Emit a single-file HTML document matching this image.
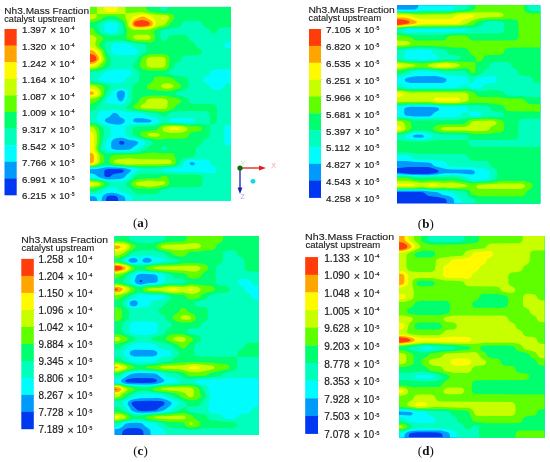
<!DOCTYPE html>
<html><head><meta charset="utf-8"><style>
html,body{margin:0;padding:0;background:#fff;width:550px;height:462px;overflow:hidden}
svg{display:block}
.t1{font-family:"Liberation Sans",Arial,sans-serif;font-size:9.4px;fill:#1a1a1a;stroke:#1a1a1a;stroke-width:0.12px}
.t2{font-family:"Liberation Sans",Arial,sans-serif;font-size:9.1px;fill:#1a1a1a;stroke:#1a1a1a;stroke-width:0.12px}
.lb{font-family:"Liberation Sans",Arial,sans-serif;font-size:9.8px;fill:#1a1a1a;stroke:#1a1a1a;stroke-width:0.18px}
.sp{font-size:5.4px}
.tm{font-size:10.8px}
.cap{font-family:"Liberation Serif","Times New Roman",serif;font-size:13px;fill:#111}
.ax{font-family:"Liberation Sans",Arial,sans-serif;font-size:7px}
</style></head><body>
<svg width="550" height="462" viewBox="0 0 550 462">
<defs><filter id="sf" x="-2%" y="-2%" width="104%" height="104%"><feGaussianBlur stdDeviation="0.45"/></filter></defs>
<g filter="url(#sf)"><rect x="90.0" y="6.9" width="141.0" height="194.1" fill="#0037f0"/>
<path fill="#009bfa" fill-rule="evenodd" d="M231.0 201.0L118.3 201.0L118.0 198.2L117.1 196.8L114.8 195.8L111.5 195.4L108.8 195.7L107.1 196.5L106.2 198.2L106.0 201.0L90.0 201.0L90.0 6.9L231.0 6.9L231.0 201.0ZM123.3 144.5L124.5 143.1L124.4 142.1L123.7 141.5L121.5 140.9L120.2 141.1L119.4 141.8L119.1 143.1L119.8 144.2L121.5 144.8L123.3 144.5ZM109.1 177.2L113.5 173.9L120.2 173.1L122.3 172.5L123.7 171.5L123.8 170.5L122.2 169.5L119.5 169.2L109.2 168.9L105.9 169.5L104.8 170.2L104.2 171.5L104.4 175.5L105.1 176.5L106.2 177.1L109.1 177.2Z"/>
<path fill="#00fcfc" fill-rule="evenodd" d="M231.0 201.0L125.3 201.0L125.1 197.8L123.5 196.0L116.2 193.3L111.5 192.7L107.2 193.2L103.8 195.0L102.0 197.5L101.7 201.0L97.2 201.0L97.0 198.5L95.8 197.0L93.5 196.2L90.0 196.0L90.0 173.3L94.5 173.9L98.8 177.2L105.7 179.2L109.8 179.5L119.5 178.9L122.2 178.5L124.2 177.5L126.6 174.8L130.3 171.8L131.0 170.5L130.5 169.8L129.1 169.2L123.8 168.0L108.5 167.2L105.2 167.5L97.2 169.0L90.0 169.3L90.0 6.9L231.0 6.9L231.0 201.0ZM122.0 101.1L123.0 100.1L124.5 96.9L125.0 93.4L124.6 92.1L123.6 91.1L122.2 90.6L120.5 90.6L118.8 91.1L117.5 92.1L116.8 93.4L116.8 95.4L117.5 97.9L118.9 100.4L120.5 101.4L122.0 101.1ZM119.8 124.5L121.8 124.0L123.5 123.1L124.7 121.8L124.8 120.5L123.9 119.1L119.8 116.9L117.6 114.1L115.9 113.1L114.2 113.0L112.5 113.5L109.6 116.8L105.9 118.8L104.8 120.1L105.4 121.8L107.8 123.0L114.8 124.4L119.8 124.5ZM148.9 122.5L151.2 121.8L151.7 121.1L151.5 120.5L149.3 119.5L142.5 118.2L135.8 118.3L133.9 119.1L133.1 120.5L134.0 121.8L136.2 122.5L148.9 122.5ZM128.4 149.8L131.4 148.8L133.9 146.5L137.2 144.4L138.2 143.1L138.1 142.1L135.5 140.8L129.5 139.9L123.2 138.0L120.5 137.7L117.5 138.0L114.8 138.8L112.8 140.0L111.6 141.5L111.1 143.5L111.2 147.1L111.5 148.2L112.5 149.1L116.8 150.0L128.4 149.8ZM193.7 165.1L194.5 164.5L194.9 163.5L193.8 162.2L191.2 162.1L189.7 163.1L189.7 164.1L190.7 165.1L192.2 165.5L193.7 165.1Z"/>
<path fill="#00ffbc" fill-rule="evenodd" d="M231.0 201.0L132.4 201.0L132.0 197.2L130.4 195.2L127.5 193.7L120.5 191.8L119.1 190.8L116.8 188.2L114.5 187.5L110.8 187.9L106.8 189.0L105.2 189.8L101.5 192.8L99.5 193.7L90.0 194.0L90.0 177.8L94.8 178.2L109.5 181.0L116.5 181.6L121.5 181.4L125.2 180.3L128.5 178.8L129.8 177.6L132.2 174.3L137.1 171.5L138.0 170.2L137.6 169.5L136.2 168.8L132.2 168.0L122.8 166.9L108.2 166.0L105.2 166.2L95.8 167.7L90.0 167.9L90.0 6.9L231.0 6.9L231.0 41.6L227.8 41.9L226.1 42.4L224.8 43.5L224.3 45.1L224.8 46.7L226.1 47.8L227.8 48.3L231.0 48.6L231.0 69.3L216.5 69.3L212.5 69.9L210.8 71.1L208.8 74.9L203.8 77.8L203.0 79.8L203.3 81.1L204.1 82.1L208.9 84.8L211.2 88.5L212.5 89.3L214.5 89.8L218.5 89.9L221.5 89.3L223.2 88.1L224.6 85.4L225.5 84.4L227.5 83.6L231.0 83.3L231.0 124.7L226.9 125.1L224.8 126.5L224.1 128.5L224.0 132.8L224.0 141.1L224.6 143.5L225.5 144.5L226.8 145.1L231.0 145.6L231.0 201.0ZM113.7 33.1L116.4 32.4L117.8 30.9L118.1 26.4L117.4 24.1L115.2 22.8L111.8 22.3L107.8 22.6L105.2 23.7L104.5 24.7L104.1 26.4L104.2 29.7L104.9 31.4L106.3 32.4L108.2 33.0L113.7 33.1ZM133.3 55.1L135.5 54.5L137.5 53.4L138.5 52.1L138.6 50.8L137.4 49.4L133.7 47.4L130.5 44.4L126.2 43.4L117.2 43.0L113.5 43.5L111.5 45.1L111.1 47.4L111.4 51.8L112.5 53.4L114.0 54.4L118.2 55.2L133.3 55.1ZM120.7 83.1L123.8 82.1L124.7 81.1L126.5 77.7L131.2 74.8L131.8 72.8L130.5 70.8L127.5 69.5L121.8 69.3L115.2 69.5L108.2 70.8L105.2 72.1L102.6 75.1L98.9 77.1L97.8 78.4L97.9 79.4L98.4 80.1L100.9 81.1L115.5 83.1L120.7 83.1ZM121.4 104.8L124.2 103.8L126.4 101.8L127.2 99.4L127.9 93.8L127.5 91.4L126.2 89.7L124.2 88.7L121.2 88.3L116.8 89.0L112.9 91.1L111.7 92.4L110.1 95.8L106.8 99.1L106.3 100.8L106.8 102.5L108.5 103.6L118.8 104.8L121.4 104.8ZM130.0 151.5L135.2 150.6L138.1 149.5L144.5 144.4L145.2 143.5L145.4 142.5L144.6 141.5L142.5 140.5L130.2 137.6L126.8 136.1L125.7 134.8L125.3 133.1L125.4 128.8L126.3 126.8L128.2 125.4L130.8 124.7L148.5 124.6L153.8 124.0L156.7 123.1L158.6 122.1L159.4 121.1L159.0 119.8L156.2 117.9L148.8 116.1L143.5 113.6L126.8 112.1L117.2 109.9L112.8 109.9L102.5 111.1L100.5 111.6L98.8 112.5L97.6 113.8L97.1 115.5L97.0 119.5L97.6 121.1L100.4 123.1L109.4 126.8L110.4 127.8L110.9 129.1L110.8 135.1L110.1 136.5L107.2 139.3L106.3 140.8L104.7 147.5L104.7 148.5L105.2 149.5L107.6 150.8L111.5 151.5L130.0 151.5ZM192.9 122.1L194.6 121.1L194.8 120.5L194.5 119.6L192.8 118.5L190.2 118.1L173.3 118.1L170.2 119.1L169.1 120.5L170.2 121.5L172.8 121.9L189.5 122.5L192.9 122.1ZM212.4 173.2L214.5 172.7L215.9 171.8L216.7 170.2L216.4 168.5L215.2 167.2L211.1 164.8L209.4 161.5L208.5 160.5L206.8 159.7L204.5 159.4L192.8 159.4L187.3 160.1L184.5 161.5L182.6 165.5L180.5 167.0L174.2 168.3L164.5 168.9L162.7 169.5L162.3 170.2L164.2 171.2L170.7 171.8L197.8 172.0L207.5 173.2L212.4 173.2Z"/>
<path fill="#00ff6e" fill-rule="evenodd" d="M213.5 124.1L210.8 124.4L210.2 124.1L209.7 113.8L208.5 112.1L206.2 111.2L198.5 111.0L178.2 111.2L170.5 112.8L168.7 113.8L165.8 116.3L163.8 116.8L162.2 116.3L159.4 114.1L157.2 113.2L133.5 110.6L128.8 109.6L126.6 108.5L126.1 107.5L126.4 106.5L131.0 102.4L132.1 100.4L132.4 87.8L132.8 85.8L134.2 84.1L138.2 81.9L139.2 79.4L139.4 74.4L139.0 72.4L137.8 70.8L133.5 67.4L132.8 66.1L132.7 64.8L133.5 63.4L136.4 60.8L137.9 57.8L138.9 56.4L145.6 52.1L146.3 50.1L146.1 46.1L145.2 44.8L143.2 43.9L135.8 43.2L121.5 40.4L113.5 40.4L107.7 41.8L105.3 43.4L104.5 45.4L106.2 49.4L107.2 53.4L110.1 57.1L110.9 58.8L111.1 63.8L110.5 66.1L108.1 67.8L100.2 70.5L95.8 71.3L90.0 71.6L90.0 6.9L160.4 6.9L160.6 9.1L161.1 10.1L162.2 10.8L164.2 11.1L165.8 10.8L167.0 10.1L167.6 6.9L231.0 6.9L231.0 27.6L222.8 27.6L219.5 28.2L217.8 29.3L216.3 32.4L214.8 33.5L213.2 33.7L211.4 33.1L209.0 29.1L203.8 26.2L201.2 22.1L199.2 21.3L195.5 20.9L187.8 21.0L184.5 21.4L182.8 22.4L180.9 25.7L179.5 26.8L177.5 27.4L171.8 27.9L163.5 29.8L161.5 30.7L160.6 32.4L160.8 38.7L161.8 40.2L163.5 40.8L165.2 40.7L166.4 40.1L168.5 36.4L171.2 34.9L181.8 34.6L186.5 35.4L188.1 36.7L189.8 40.2L194.6 43.1L196.8 47.2L200.8 49.4L201.8 50.4L202.3 51.8L202.0 53.1L201.1 54.1L199.8 54.7L196.8 55.2L186.5 55.4L183.2 56.4L182.2 57.4L180.6 60.8L175.8 63.7L173.9 67.8L169.5 71.1L168.6 72.8L169.5 74.0L171.5 74.8L178.2 76.0L185.8 76.8L187.5 77.7L188.3 79.1L188.7 85.4L187.8 88.3L185.2 89.9L177.0 92.1L175.8 93.4L176.5 94.6L186.5 97.5L188.0 98.8L189.8 102.4L191.8 103.5L195.5 103.9L212.2 104.1L214.5 104.6L216.2 105.8L217.0 108.8L216.8 120.8L215.8 123.0L213.5 124.1ZM116.0 35.7L120.8 34.6L122.4 33.4L123.1 32.1L123.3 29.7L122.5 24.4L121.9 23.1L120.7 22.1L115.2 20.0L109.2 19.7L106.2 20.2L101.8 21.7L99.2 22.9L97.8 24.1L97.6 25.7L99.0 30.7L99.6 32.1L100.8 33.1L104.2 34.6L107.8 35.6L116.0 35.7ZM91.5 110.8L90.0 110.9L90.0 81.4L93.8 81.7L104.8 83.9L109.3 85.4L110.2 86.4L110.0 87.8L107.5 90.8L106.0 95.1L102.8 99.4L101.3 103.1L98.0 106.1L95.5 109.2L93.8 110.2L91.5 110.8ZM155.2 168.2L144.5 168.2L135.8 167.0L113.8 165.7L107.2 164.6L95.8 166.7L90.0 167.0L90.0 122.7L93.5 123.1L96.8 124.1L101.9 126.5L103.6 128.1L104.1 130.5L103.9 135.5L102.1 143.5L100.5 147.5L100.5 149.1L101.2 150.5L103.1 151.8L105.8 152.9L108.5 153.2L129.5 152.9L139.8 151.7L144.8 150.1L148.0 147.1L152.1 144.5L152.8 142.8L152.2 141.8L151.3 141.1L136.0 136.8L133.3 135.5L132.4 133.5L132.5 129.5L133.3 127.8L134.8 127.0L138.2 126.6L153.5 126.2L156.5 125.6L162.2 123.5L164.5 123.1L191.5 124.4L200.8 123.6L209.8 124.6L210.0 133.1L209.5 136.3L208.2 137.8L203.7 140.1L201.3 144.5L197.5 146.5L196.5 147.5L195.8 149.5L195.5 154.5L194.7 156.1L192.4 157.1L185.2 158.1L182.5 158.8L180.7 160.5L179.1 164.1L177.9 165.1L175.8 166.0L172.2 166.7L162.8 167.1L155.2 168.2ZM165.0 150.1L166.2 149.6L166.8 148.8L166.8 147.8L166.2 147.1L164.8 146.5L163.5 146.4L161.4 147.5L161.1 148.5L161.8 149.6L163.2 150.2L165.0 150.1ZM155.5 193.9L140.2 194.0L135.8 193.4L133.8 192.3L131.0 189.2L126.8 186.2L126.0 185.2L125.9 183.8L127.0 182.5L132.6 178.8L135.8 175.4L138.5 174.4L144.2 173.4L162.2 173.4L173.8 174.6L197.2 174.8L200.7 175.5L202.3 177.2L202.7 179.5L202.4 183.8L201.5 185.5L199.8 186.5L196.2 187.0L172.2 187.3L162.7 189.5L161.0 190.5L158.5 193.1L155.5 193.9ZM93.8 191.8L90.0 192.1L90.0 179.3L95.2 179.6L102.5 180.8L107.8 182.5L109.7 183.8L109.3 184.8L107.8 185.8L99.0 189.5L95.8 191.3L93.8 191.8Z"/>
<path fill="#5fff00" fill-rule="evenodd" d="M150.5 42.4L134.8 41.2L129.0 39.8L126.8 38.7L125.8 37.1L127.0 33.1L127.1 31.1L124.7 22.4L123.2 20.6L116.4 16.4L112.2 15.9L106.8 16.2L105.1 16.7L101.6 19.1L97.4 20.7L93.5 21.9L90.0 22.2L90.0 6.9L146.3 6.9L147.0 10.1L149.5 11.6L159.8 13.0L169.8 13.6L171.8 14.1L173.5 15.1L174.5 17.1L174.1 19.1L170.8 22.4L168.4 25.7L165.7 27.1L157.8 28.8L154.4 30.7L153.8 32.1L155.0 36.7L154.7 39.8L153.2 41.6L150.5 42.4ZM93.5 69.8L90.0 69.9L90.0 27.7L93.5 28.7L96.6 33.4L102.1 36.7L103.1 37.7L103.0 39.4L99.8 42.8L99.3 45.1L99.9 46.4L103.4 50.1L106.5 58.8L105.8 62.4L104.1 65.4L102.8 66.8L98.7 68.8L93.5 69.8ZM162.5 70.5L148.8 70.4L145.2 69.8L142.2 68.6L140.3 67.1L139.7 65.4L141.7 58.1L142.8 56.9L144.8 55.9L151.2 54.1L162.8 54.0L165.5 54.4L167.5 55.2L168.8 56.4L169.5 58.4L169.2 66.1L168.3 67.8L166.8 69.0L164.8 69.9L162.5 70.5ZM169.8 91.1L163.2 91.2L149.8 89.6L147.5 88.4L146.9 87.4L146.8 86.1L147.8 84.4L152.2 81.9L154.1 78.1L156.2 76.8L158.8 76.4L162.5 76.4L170.8 77.8L173.4 78.8L176.4 81.8L180.0 84.1L180.9 85.1L181.1 86.1L180.4 87.4L178.8 88.4L172.8 90.5L169.8 91.1ZM91.5 103.8L90.0 103.9L90.0 83.3L95.8 83.9L100.4 85.1L102.7 86.1L103.6 87.1L104.0 88.8L103.9 93.1L103.2 95.4L95.2 102.4L93.5 103.3L91.5 103.8ZM165.8 111.5L162.8 111.8L140.5 110.0L134.8 108.6L133.5 107.8L133.2 106.8L134.3 105.1L138.1 102.1L140.8 97.9L143.2 96.8L147.2 96.0L153.5 95.6L165.8 95.8L177.8 98.4L180.6 99.8L181.1 101.1L180.5 102.4L176.1 105.1L173.6 108.5L171.5 109.6L165.8 111.5ZM93.5 166.2L90.0 166.3L90.0 124.7L93.2 124.9L95.5 125.5L97.6 126.8L98.5 128.1L99.4 132.5L99.6 136.5L99.3 142.5L98.2 147.1L98.2 149.5L99.4 151.8L103.5 155.5L104.2 157.8L104.1 161.5L102.9 163.1L98.6 165.1L93.5 166.2ZM160.2 139.5L155.8 139.5L145.3 137.5L141.0 135.8L140.1 134.8L140.1 133.8L141.5 132.2L144.5 131.2L156.5 129.8L157.7 129.1L160.6 126.1L162.8 125.2L165.2 124.7L178.8 124.7L192.5 126.3L198.5 126.3L200.8 126.9L202.0 128.1L201.7 129.8L200.2 131.0L193.5 131.9L191.0 132.8L189.4 134.1L187.6 137.1L185.5 138.2L181.8 138.6L166.2 138.7L160.2 139.5ZM157.8 166.2L144.2 166.3L128.8 165.8L114.8 164.8L112.5 164.4L110.5 163.5L109.3 162.1L109.1 160.8L109.9 158.5L111.4 156.1L113.1 155.1L115.2 154.7L136.2 154.2L153.2 152.4L163.2 153.4L171.2 152.9L172.8 153.4L174.1 154.5L176.1 160.8L175.9 162.8L174.9 164.1L173.2 165.0L171.0 165.5L157.8 166.2ZM154.5 188.5L148.5 188.8L136.2 187.9L132.4 186.2L131.3 184.8L131.1 183.5L131.9 182.2L133.5 180.8L137.5 179.2L148.5 178.5L156.8 178.6L158.8 178.0L161.8 176.2L163.5 175.8L165.8 176.1L167.3 177.2L168.8 179.8L169.4 182.2L169.2 183.8L168.3 185.2L165.2 186.6L154.5 188.5ZM90.8 188.8L90.0 188.9L90.0 180.3L94.8 180.6L100.5 181.5L103.4 182.5L104.6 183.5L104.7 184.2L104.2 185.1L101.8 186.4L94.8 188.4L90.8 188.8Z"/>
<path fill="#c8ff00" fill-rule="evenodd" d="M144.8 30.1L134.5 29.9L131.5 29.2L129.6 28.1L127.9 25.7L127.1 21.4L125.7 17.7L125.2 14.4L124.8 14.0L97.2 13.9L96.9 6.9L125.4 6.9L125.5 12.7L125.8 13.6L138.2 12.3L142.2 12.3L155.8 14.8L165.5 14.9L167.5 15.5L168.8 16.7L169.1 18.1L168.6 19.4L165.5 24.0L164.2 25.1L157.8 26.5L150.2 29.5L144.8 30.1ZM91.8 19.4L90.0 19.5L90.0 13.9L96.8 14.0L96.7 16.4L96.1 17.7L94.5 18.8L91.8 19.4ZM93.2 68.5L90.0 68.6L90.0 34.7L93.5 35.4L96.1 37.4L96.5 39.1L95.3 43.1L95.4 45.1L96.4 46.8L101.0 50.8L103.8 58.1L103.8 59.8L103.1 61.4L98.2 66.4L96.1 67.8L93.2 68.5ZM148.5 39.8L136.5 39.4L133.8 38.4L133.1 37.1L134.2 35.6L136.5 34.8L147.5 34.8L149.8 35.7L150.8 37.4L150.2 39.1L148.5 39.8ZM161.8 67.8L151.5 67.8L147.8 66.8L146.9 65.8L146.5 64.4L146.5 60.4L147.0 58.8L148.7 57.4L151.8 56.7L161.2 56.7L164.3 57.4L165.2 58.4L165.5 59.4L165.5 65.1L164.5 66.8L161.8 67.8ZM169.2 88.5L165.2 88.4L162.8 88.0L161.2 86.8L161.1 85.4L162.8 83.9L166.5 83.3L170.5 83.7L173.1 85.1L173.6 86.1L173.2 87.2L171.5 88.1L169.2 88.5ZM91.2 98.8L90.0 98.8L90.0 85.2L93.8 85.6L96.7 86.8L100.2 89.9L101.3 92.4L101.0 94.4L99.2 96.3L95.2 98.1L91.2 98.8ZM164.2 109.1L144.5 108.6L141.2 107.8L140.6 107.1L140.5 106.5L141.6 105.1L145.1 102.8L147.2 99.9L148.8 98.9L152.8 98.3L163.2 98.5L166.3 99.4L167.2 100.4L167.6 101.8L167.6 105.5L167.2 107.1L166.0 108.5L164.2 109.1ZM179.2 132.8L171.2 132.9L165.2 132.0L162.9 130.8L162.5 128.8L163.3 127.5L165.3 126.5L172.8 125.7L182.2 126.3L185.8 127.2L187.6 128.5L187.3 129.8L185.5 131.2L182.5 132.3L179.2 132.8ZM92.2 165.5L90.0 165.6L90.0 126.6L92.8 127.0L94.3 127.8L96.5 132.5L96.9 135.1L96.9 140.8L96.2 149.1L96.8 151.1L99.1 154.8L99.6 157.1L99.6 161.1L98.8 163.1L96.2 164.8L92.2 165.5ZM156.8 136.8L150.4 136.5L148.5 135.8L147.7 134.8L148.5 133.8L151.3 133.1L156.8 133.1L159.3 133.8L159.7 134.8L159.2 135.8L156.8 136.8ZM133.5 164.5L128.2 164.7L116.2 163.3L114.5 162.8L113.9 161.5L114.8 160.2L116.5 159.6L128.8 158.2L138.8 159.3L167.8 159.4L170.7 160.1L172.0 161.8L171.2 163.2L168.5 163.9L154.5 164.3L137.5 164.2L133.5 164.5ZM152.8 186.5L148.5 186.7L137.8 185.4L135.8 184.6L135.4 183.5L136.2 182.5L137.5 182.0L149.2 180.6L157.2 181.4L162.8 181.2L164.2 181.7L164.8 182.5L164.7 183.8L163.2 184.7L152.8 186.5ZM92.8 186.8L90.0 187.0L90.0 181.4L97.4 182.2L99.5 182.8L100.6 183.8L100.2 184.7L98.8 185.5L92.8 186.8Z"/>
<path fill="#fffa00" fill-rule="evenodd" d="M114.5 11.8L109.2 11.9L105.8 11.2L104.3 9.7L104.1 6.9L118.3 6.9L118.2 9.1L117.6 10.4L116.5 11.2L114.5 11.8ZM146.2 28.4L135.8 28.4L133.2 27.9L131.2 26.8L130.0 25.1L129.8 22.4L130.5 20.3L132.3 17.4L133.5 16.3L135.3 15.4L141.8 14.2L147.4 15.1L150.7 16.1L152.6 17.1L154.4 19.1L155.7 21.4L156.0 23.1L155.5 24.7L154.3 26.1L151.9 27.4L146.2 28.4ZM162.8 19.4L161.8 19.1L161.4 18.1L162.5 17.3L163.9 17.4L164.4 18.1L164.2 18.7L162.8 19.4ZM92.2 66.8L90.0 67.0L90.0 47.3L93.8 48.1L97.1 50.1L100.8 56.1L101.4 58.1L101.3 59.8L100.1 61.4L94.5 66.0L92.2 66.8ZM92.2 96.8L90.0 96.9L90.0 88.7L92.8 88.9L95.2 89.7L97.2 91.1L98.0 92.4L97.9 94.1L96.8 95.3L94.8 96.3L92.2 96.8ZM176.2 130.1L170.9 129.8L169.6 129.1L169.4 128.5L171.2 127.6L174.5 127.3L178.2 127.6L179.8 128.5L179.7 129.1L179.2 129.5L176.2 130.1ZM92.8 164.5L90.0 164.7L90.0 131.8L92.5 132.6L93.8 134.5L94.1 140.5L93.7 148.8L94.2 150.5L96.5 154.5L96.9 156.5L96.9 160.8L96.6 162.5L95.3 163.8L92.8 164.5ZM129.5 162.3L128.8 162.5L128.1 162.1L129.2 161.8L129.5 162.3ZM90.8 184.8L90.0 184.9L90.0 183.1L93.6 183.8L93.0 184.5L90.8 184.8Z"/>
<path fill="#ffa500" fill-rule="evenodd" d="M144.5 27.4L137.8 27.5L134.2 26.9L132.8 26.1L132.1 25.1L131.8 23.7L132.1 22.4L133.8 20.3L140.2 17.1L142.5 16.5L144.8 16.9L151.5 20.9L152.7 22.4L152.9 23.7L152.2 25.4L150.6 26.4L144.5 27.4ZM92.5 63.8L90.0 64.1L90.0 50.0L92.7 50.4L94.4 51.4L98.0 55.8L98.9 57.8L98.8 59.4L97.7 61.1L95.2 62.9L92.5 63.8ZM91.5 94.8L90.0 94.9L90.0 91.4L92.6 91.8L93.9 92.8L94.0 93.4L93.5 94.1L91.5 94.8ZM91.5 163.2L90.0 163.3L90.0 152.5L92.9 153.8L93.6 154.8L94.0 156.5L93.8 161.6L93.2 162.5L91.5 163.2Z"/>
<path fill="#ff3c0a" fill-rule="evenodd" d="M142.8 26.4L138.2 26.4L135.5 25.9L134.0 24.7L134.0 23.1L134.8 22.0L136.5 21.1L142.2 20.1L146.6 21.1L148.7 22.1L149.7 23.1L149.7 24.4L148.5 25.4L142.8 26.4ZM91.5 62.1L90.0 62.2L90.0 54.0L92.5 54.4L94.5 55.3L95.8 56.5L96.5 58.1L96.4 59.4L95.4 60.8L93.8 61.6L91.5 62.1Z"/></g>
<rect x="4.5" y="29.00" width="12.2" height="16.90" fill="#ff3c0a"/>
<rect x="4.5" y="45.60" width="12.2" height="16.90" fill="#ffa500"/>
<rect x="4.5" y="62.20" width="12.2" height="16.90" fill="#fffa00"/>
<rect x="4.5" y="78.80" width="12.2" height="16.90" fill="#c8ff00"/>
<rect x="4.5" y="95.40" width="12.2" height="16.90" fill="#5fff00"/>
<rect x="4.5" y="112.00" width="12.2" height="16.90" fill="#00ff6e"/>
<rect x="4.5" y="128.60" width="12.2" height="16.90" fill="#00ffbc"/>
<rect x="4.5" y="145.20" width="12.2" height="16.90" fill="#00fcfc"/>
<rect x="4.5" y="161.80" width="12.2" height="16.90" fill="#009bfa"/>
<rect x="4.5" y="178.40" width="12.2" height="16.90" fill="#0037f0"/>
<line x1="16.7" y1="29.00" x2="18.3" y2="29.00" stroke="#c8c8c8" stroke-width="0.7"/>
<line x1="16.7" y1="45.60" x2="18.3" y2="45.60" stroke="#c8c8c8" stroke-width="0.7"/>
<line x1="16.7" y1="62.20" x2="18.3" y2="62.20" stroke="#c8c8c8" stroke-width="0.7"/>
<line x1="16.7" y1="78.80" x2="18.3" y2="78.80" stroke="#c8c8c8" stroke-width="0.7"/>
<line x1="16.7" y1="95.40" x2="18.3" y2="95.40" stroke="#c8c8c8" stroke-width="0.7"/>
<line x1="16.7" y1="112.00" x2="18.3" y2="112.00" stroke="#c8c8c8" stroke-width="0.7"/>
<line x1="16.7" y1="128.60" x2="18.3" y2="128.60" stroke="#c8c8c8" stroke-width="0.7"/>
<line x1="16.7" y1="145.20" x2="18.3" y2="145.20" stroke="#c8c8c8" stroke-width="0.7"/>
<line x1="16.7" y1="161.80" x2="18.3" y2="161.80" stroke="#c8c8c8" stroke-width="0.7"/>
<line x1="16.7" y1="178.40" x2="18.3" y2="178.40" stroke="#c8c8c8" stroke-width="0.7"/>
<line x1="16.7" y1="195.00" x2="18.3" y2="195.00" stroke="#c8c8c8" stroke-width="0.7"/>
<text transform="matrix(1.075 0 0 1.000 4.3 13.7)" class="t1">Nh3.Mass Fraction</text>
<text transform="matrix(1.000 0 0 1.000 4.3 21.6)" class="t2">catalyst upstream</text>
<g transform="matrix(0.940 0 0 1.000 22.1 33.30)" class="lb"><text transform="scale(1.050 1)">1.397</text><text x="30.0" y="0.8" class="tm">×</text><text x="39.6">10</text><text x="51.1" y="-3.0" class="sp">-4</text></g>
<g transform="matrix(0.940 0 0 1.000 22.1 49.90)" class="lb"><text transform="scale(1.050 1)">1.320</text><text x="30.0" y="0.8" class="tm">×</text><text x="39.6">10</text><text x="51.1" y="-3.0" class="sp">-4</text></g>
<g transform="matrix(0.940 0 0 1.000 22.1 66.50)" class="lb"><text transform="scale(1.050 1)">1.242</text><text x="30.0" y="0.8" class="tm">×</text><text x="39.6">10</text><text x="51.1" y="-3.0" class="sp">-4</text></g>
<g transform="matrix(0.940 0 0 1.000 22.1 83.10)" class="lb"><text transform="scale(1.050 1)">1.164</text><text x="30.0" y="0.8" class="tm">×</text><text x="39.6">10</text><text x="51.1" y="-3.0" class="sp">-4</text></g>
<g transform="matrix(0.940 0 0 1.000 22.1 99.70)" class="lb"><text transform="scale(1.050 1)">1.087</text><text x="30.0" y="0.8" class="tm">×</text><text x="39.6">10</text><text x="51.1" y="-3.0" class="sp">-4</text></g>
<g transform="matrix(0.940 0 0 1.000 22.1 116.30)" class="lb"><text transform="scale(1.050 1)">1.009</text><text x="30.0" y="0.8" class="tm">×</text><text x="39.6">10</text><text x="51.1" y="-3.0" class="sp">-4</text></g>
<g transform="matrix(0.940 0 0 1.000 22.1 132.90)" class="lb"><text transform="scale(1.050 1)">9.317</text><text x="30.0" y="0.8" class="tm">×</text><text x="39.6">10</text><text x="51.1" y="-3.0" class="sp">-5</text></g>
<g transform="matrix(0.940 0 0 1.000 22.1 149.50)" class="lb"><text transform="scale(1.050 1)">8.542</text><text x="30.0" y="0.8" class="tm">×</text><text x="39.6">10</text><text x="51.1" y="-3.0" class="sp">-5</text></g>
<g transform="matrix(0.940 0 0 1.000 22.1 166.10)" class="lb"><text transform="scale(1.050 1)">7.766</text><text x="30.0" y="0.8" class="tm">×</text><text x="39.6">10</text><text x="51.1" y="-3.0" class="sp">-5</text></g>
<g transform="matrix(0.940 0 0 1.000 22.1 182.70)" class="lb"><text transform="scale(1.050 1)">6.991</text><text x="30.0" y="0.8" class="tm">×</text><text x="39.6">10</text><text x="51.1" y="-3.0" class="sp">-5</text></g>
<g transform="matrix(0.940 0 0 1.000 22.1 199.30)" class="lb"><text transform="scale(1.050 1)">6.215</text><text x="30.0" y="0.8" class="tm">×</text><text x="39.6">10</text><text x="51.1" y="-3.0" class="sp">-5</text></g>
<g filter="url(#sf)"><rect x="397.0" y="5.3" width="143.2" height="198.2" fill="#0037f0"/>
<path fill="#009bfa" fill-rule="evenodd" d="M540.2 203.5L446.9 203.5L446.5 200.0L444.8 198.5L437.1 196.9L428.8 196.1L427.1 195.3L424.5 193.0L422.7 192.3L419.1 192.0L397.0 192.1L397.0 172.6L410.8 173.9L427.8 174.1L435.6 173.0L437.6 172.4L438.6 171.4L438.1 170.4L436.5 169.5L430.5 167.5L427.1 167.0L408.2 166.9L397.0 168.2L397.0 5.3L540.2 5.3L540.2 203.5Z"/>
<path fill="#00fcfc" fill-rule="evenodd" d="M540.2 203.5L454.3 203.5L453.9 199.7L453.0 198.3L451.8 197.4L448.8 196.1L442.5 194.7L437.5 192.3L421.8 190.7L397.0 190.8L397.0 174.1L414.8 175.1L427.5 175.2L436.1 174.6L445.1 173.3L454.8 173.2L461.1 173.5L471.8 174.6L474.1 173.9L475.0 172.4L474.1 170.7L471.1 169.7L451.4 169.5L446.1 168.9L435.6 166.4L433.7 165.4L431.1 163.2L428.5 162.4L415.1 162.1L406.2 161.0L397.0 160.9L397.0 9.5L415.1 9.4L417.7 8.1L418.3 5.3L540.2 5.3L540.2 203.5ZM442.3 83.1L444.5 82.6L445.8 81.7L446.5 80.1L445.9 78.8L443.1 77.4L435.5 76.1L415.1 76.2L407.1 77.8L405.3 78.8L404.7 79.7L405.1 81.1L406.3 82.1L410.2 83.1L442.3 83.1ZM428.7 116.4L431.5 115.5L434.1 112.7L438.5 110.4L439.1 109.4L438.9 108.4L437.0 107.4L433.5 107.0L410.5 106.8L406.2 107.4L404.8 108.2L404.2 109.4L404.0 112.4L404.4 114.1L405.2 115.1L406.8 115.8L414.8 116.6L428.7 116.4ZM421.4 137.7L423.6 137.0L424.2 136.4L424.0 135.7L421.8 134.8L417.8 134.6L414.3 135.0L412.9 136.0L413.4 137.0L415.1 137.6L421.4 137.7Z"/>
<path fill="#00ffbc" fill-rule="evenodd" d="M540.2 203.5L461.3 203.5L461.2 200.0L460.4 198.0L456.0 195.0L453.7 193.0L451.2 192.0L438.1 190.7L429.5 190.4L422.1 189.7L397.0 189.9L397.0 175.2L420.1 176.2L430.5 176.1L445.1 175.2L457.8 175.3L464.8 176.5L467.1 177.4L470.8 179.5L474.8 180.0L484.4 179.8L487.4 179.3L489.4 178.0L489.9 174.7L489.7 172.4L489.1 170.7L487.6 169.4L485.4 168.5L471.8 166.9L451.1 166.6L448.3 165.7L445.9 162.4L443.5 161.2L429.5 159.6L415.8 159.4L413.2 158.7L410.1 156.4L408.2 155.6L397.0 155.2L397.0 116.3L413.5 118.4L427.5 118.5L438.1 117.3L457.4 116.9L460.1 115.9L463.1 112.6L466.4 111.8L468.4 112.0L469.2 114.7L470.1 115.4L472.1 116.0L479.4 115.9L481.4 115.2L482.1 114.1L481.3 112.7L479.1 111.9L469.1 111.5L468.8 111.3L468.4 109.1L467.8 108.0L466.2 107.1L464.2 106.7L446.1 106.8L436.5 105.7L425.8 105.3L408.2 105.4L397.0 106.5L397.0 83.3L401.2 84.1L404.9 86.7L406.4 87.4L413.5 88.0L456.4 87.8L459.7 87.1L463.8 84.0L467.4 83.4L468.3 83.7L469.0 86.1L470.5 87.4L473.4 88.2L478.1 88.6L481.6 87.7L484.0 84.7L485.4 83.9L493.1 83.0L495.1 82.5L496.4 81.4L497.0 79.7L496.4 77.8L494.4 76.4L491.1 76.0L486.7 76.2L478.4 77.8L476.4 79.1L473.8 82.2L471.8 82.8L469.4 83.0L468.8 82.4L468.3 79.7L467.5 78.4L465.8 77.1L463.8 76.3L450.5 75.7L442.8 74.2L436.8 71.7L423.1 71.0L414.2 71.6L409.2 74.1L403.2 76.2L400.2 77.0L397.0 77.2L397.0 10.9L414.2 11.1L424.5 10.0L449.5 9.9L451.8 9.4L453.4 8.5L454.0 7.5L454.3 5.3L540.2 5.3L540.2 203.5ZM410.2 32.8L417.5 32.3L441.1 32.2L450.8 31.6L462.8 31.5L465.8 31.1L466.7 30.4L466.4 29.8L465.6 29.5L463.1 29.2L417.1 29.4L408.8 28.7L405.4 29.1L403.5 30.4L403.9 31.4L405.2 32.2L410.2 32.8ZM426.2 59.8L436.3 59.1L438.3 58.4L439.0 57.1L438.0 55.8L434.0 53.8L431.5 50.8L428.7 49.8L417.1 49.6L409.2 49.9L405.6 50.8L404.2 52.4L404.2 57.1L405.2 58.4L406.7 59.1L410.5 59.6L426.2 59.8ZM423.0 139.7L427.2 139.0L430.3 138.0L431.6 137.0L431.7 135.7L430.0 134.4L426.5 133.2L422.5 132.7L417.5 132.6L413.5 132.9L409.2 134.0L406.5 135.0L405.1 136.4L405.4 137.4L406.4 138.0L411.2 139.3L416.1 139.8L423.0 139.7Z"/>
<path fill="#00ff6e" fill-rule="evenodd" d="M540.2 83.2L536.4 82.9L534.4 82.1L533.4 80.9L532.1 77.8L530.4 76.6L522.7 75.7L520.4 75.0L519.1 73.8L517.4 70.3L512.6 67.4L510.4 63.4L508.7 62.5L506.1 62.0L495.7 62.0L492.1 62.7L490.5 64.1L488.9 67.4L484.3 70.1L481.8 73.4L479.0 74.8L473.4 76.4L471.4 76.4L469.4 75.6L467.6 74.1L465.8 71.5L463.8 70.7L445.8 71.1L437.1 70.1L422.5 69.1L414.2 69.7L409.5 70.4L406.1 71.4L401.5 73.9L397.0 74.6L397.0 59.7L407.8 61.2L422.8 61.7L437.1 60.8L445.5 59.7L457.4 59.7L459.7 59.1L460.6 57.8L460.1 56.4L458.3 55.4L451.4 54.8L449.1 54.1L447.8 53.1L445.6 50.1L442.5 49.1L429.1 47.7L418.1 47.6L407.5 48.3L397.0 49.5L397.0 32.3L406.5 34.0L418.5 34.9L440.8 34.9L452.8 33.6L498.4 33.5L501.4 33.1L503.4 31.8L504.1 30.1L504.2 26.8L503.9 23.5L503.3 22.5L502.0 21.8L498.4 21.3L489.4 21.3L486.7 21.5L484.6 22.1L483.4 23.0L481.8 25.3L480.1 26.3L474.1 27.7L465.1 27.4L408.5 27.7L397.0 29.6L397.0 11.9L414.8 12.2L423.8 11.7L450.8 11.5L457.8 10.3L466.1 9.5L468.1 8.1L468.5 5.3L527.9 5.3L528.2 8.8L529.7 10.4L532.4 10.9L540.2 10.9L540.2 83.2ZM513.7 139.7L468.8 139.9L468.0 136.4L466.9 135.4L465.1 134.8L439.8 134.2L435.8 133.5L428.5 131.3L422.5 130.7L414.8 130.9L401.8 134.3L397.0 134.8L397.0 117.9L401.5 118.2L417.8 120.5L456.4 119.9L460.4 119.5L467.4 118.2L479.8 117.8L488.1 116.7L500.7 116.9L502.7 116.3L503.6 115.1L502.8 113.4L500.7 112.2L494.1 111.3L492.0 110.7L490.7 109.8L488.6 106.7L485.1 105.7L465.8 105.0L445.1 105.3L426.8 104.2L408.5 104.3L397.0 104.9L397.0 88.0L406.8 89.4L410.8 89.6L455.1 89.6L465.1 88.8L480.1 91.3L488.7 90.3L498.7 90.3L502.4 91.2L505.4 94.6L508.1 95.6L522.1 96.0L531.0 97.1L540.2 97.2L540.2 118.6L524.4 118.6L521.7 119.0L520.1 119.7L519.0 121.1L518.6 122.7L518.2 137.0L516.7 138.9L513.7 139.7ZM540.2 203.5L475.6 203.5L475.4 200.7L474.7 199.3L468.4 196.4L467.4 195.3L465.9 192.3L463.8 191.3L451.4 190.3L429.5 189.5L422.1 188.9L397.0 189.2L397.0 176.2L407.5 176.6L418.5 177.7L456.1 177.2L459.1 177.7L463.1 179.7L466.2 180.7L470.4 181.7L473.4 181.9L487.4 181.4L494.1 180.1L495.8 179.3L496.8 178.4L497.3 174.7L497.1 171.7L496.5 170.0L495.4 168.9L491.3 166.4L488.4 162.0L485.1 161.0L474.4 160.8L471.4 160.3L469.4 159.0L467.5 155.4L465.1 154.2L460.4 153.9L418.1 153.8L407.8 152.6L397.0 152.5L397.0 139.9L410.5 141.5L418.8 141.8L426.8 141.5L438.8 139.9L468.4 139.8L468.8 143.4L469.4 145.0L471.1 146.2L473.4 146.7L540.2 146.9L540.2 203.5Z"/>
<path fill="#5fff00" fill-rule="evenodd" d="M479.4 61.5L476.8 61.8L475.8 61.4L475.4 58.1L474.8 56.7L473.7 55.8L470.0 53.8L469.1 52.6L467.8 49.4L466.5 48.4L464.8 47.9L452.4 47.5L443.8 46.4L425.8 45.7L416.5 45.8L408.2 46.9L397.0 47.6L397.0 35.0L408.8 36.3L410.7 37.1L414.2 39.7L418.1 40.6L442.5 40.4L445.5 39.5L447.6 37.1L449.4 36.1L452.1 35.6L456.8 35.6L463.4 35.6L466.4 36.1L467.8 36.8L470.4 39.7L473.8 40.5L514.1 40.4L517.1 39.4L517.9 38.4L518.4 37.1L518.5 23.8L518.2 22.1L517.4 20.8L515.4 19.7L512.4 19.3L486.4 19.4L479.0 20.8L477.0 21.8L473.4 24.7L468.4 25.8L456.8 26.6L408.5 27.0L397.0 28.2L397.0 12.7L415.8 13.2L449.8 12.8L457.8 11.8L466.8 11.4L472.1 10.4L473.8 9.8L475.1 8.8L475.7 5.3L523.9 5.3L524.2 10.1L524.9 11.5L526.4 12.6L530.4 13.5L540.2 13.6L540.2 47.6L512.1 47.6L507.7 48.0L505.4 49.1L503.6 52.8L502.1 54.1L499.1 54.8L488.7 55.0L485.8 55.5L483.7 56.8L481.8 60.4L479.4 61.5ZM473.4 73.1L471.6 72.8L470.0 70.1L468.8 69.0L465.4 68.0L453.4 69.3L445.8 69.5L433.1 68.7L421.5 67.4L408.2 68.9L400.8 70.5L397.0 70.8L397.0 61.3L421.8 63.5L444.8 61.3L475.1 62.0L475.6 63.4L475.3 70.8L474.6 72.4L473.4 73.1ZM540.2 111.6L509.4 111.3L507.4 110.8L505.7 109.8L503.4 106.1L501.7 104.9L486.4 103.0L474.1 102.9L454.8 104.2L443.1 104.2L426.1 103.2L397.0 103.6L397.0 89.6L410.8 90.9L454.8 90.9L465.1 90.5L468.4 91.1L473.4 92.6L475.1 93.7L477.1 96.1L479.8 97.0L498.1 97.3L507.7 98.5L521.7 98.8L524.5 99.7L527.0 102.7L528.8 103.7L532.0 104.2L540.2 104.2L540.2 111.6ZM487.4 133.7L475.1 133.9L464.4 132.6L442.1 132.3L435.3 130.7L433.5 129.4L433.2 128.1L433.8 126.9L435.1 126.0L441.1 124.5L463.8 123.9L465.8 123.1L468.4 120.3L472.1 119.3L487.4 118.6L493.7 118.7L500.7 119.8L502.4 120.4L503.7 121.4L504.2 123.4L504.2 128.4L503.8 130.0L502.7 131.4L500.1 132.3L487.4 133.7ZM399.5 133.1L397.0 133.2L397.0 119.2L404.6 120.1L408.8 121.2L410.7 122.4L411.3 123.7L411.4 126.7L411.0 128.4L410.3 129.4L408.7 130.4L404.5 132.0L399.5 133.1ZM521.1 196.4L479.4 196.3L472.4 194.7L471.2 193.7L470.0 191.3L469.1 190.3L467.4 189.6L464.8 189.3L442.8 188.6L430.5 188.7L421.8 188.0L413.5 188.4L397.0 188.4L397.0 177.7L407.5 178.0L414.3 180.0L420.5 180.7L432.1 180.3L443.1 180.7L453.8 180.5L472.1 183.6L479.1 182.9L489.4 182.6L501.1 181.1L505.4 180.8L523.4 181.0L528.4 181.9L531.4 183.2L532.2 184.0L532.6 185.3L531.9 187.7L527.2 191.0L524.4 195.3L521.1 196.4Z"/>
<path fill="#c8ff00" fill-rule="evenodd" d="M401.2 27.1L397.0 27.3L397.0 13.6L407.8 13.7L416.8 14.7L446.8 14.6L450.8 14.3L457.8 13.1L472.4 12.4L496.4 12.3L501.4 12.8L502.7 13.5L503.6 14.8L503.4 15.8L502.7 16.4L500.5 17.1L485.4 17.4L479.1 18.2L471.1 20.9L466.4 23.9L459.8 25.3L422.8 25.6L407.5 26.4L401.2 27.1ZM403.8 45.4L397.0 45.6L397.0 40.6L406.5 40.9L408.9 41.8L410.2 43.1L409.9 44.1L408.7 44.8L403.8 45.4ZM399.8 68.8L397.0 68.9L397.0 62.6L413.8 64.5L415.8 65.4L415.0 66.1L413.8 66.4L408.5 67.0L399.8 68.8ZM451.8 68.1L444.1 68.2L434.8 67.7L429.9 66.8L428.2 66.1L427.7 65.4L428.9 64.4L433.0 63.4L445.5 62.6L454.4 63.1L458.5 64.1L459.9 65.1L459.5 66.1L458.3 66.8L451.8 68.1ZM457.8 103.1L441.1 103.1L425.5 101.7L397.0 101.9L397.0 90.9L401.2 91.1L410.8 92.5L463.4 92.4L465.8 92.7L467.7 93.7L468.4 95.1L468.6 97.7L468.4 99.7L467.7 100.7L464.5 102.1L457.8 103.1ZM485.1 131.1L474.4 131.2L464.1 130.6L445.8 130.5L442.7 130.0L441.5 129.4L441.3 128.7L442.2 127.7L444.9 127.1L462.4 126.9L466.4 126.5L469.2 125.1L471.7 121.7L473.8 121.0L491.4 120.6L494.7 121.1L496.2 122.1L496.5 123.1L495.7 124.4L491.3 126.7L488.6 130.0L485.1 131.1ZM399.8 131.7L397.0 131.9L397.0 120.9L400.5 121.1L402.9 122.1L404.2 123.4L405.4 126.4L405.5 128.4L404.8 129.7L402.7 131.0L399.8 131.7ZM455.4 187.7L450.5 188.0L443.1 187.2L431.1 187.8L421.8 186.8L413.8 187.5L397.0 187.6L397.0 180.9L407.2 181.0L421.8 183.1L431.1 182.2L436.8 182.3L443.5 183.1L452.1 182.4L464.4 184.3L466.4 185.0L467.0 185.7L466.8 186.4L465.1 187.0L455.4 187.7ZM520.1 189.0L481.4 189.1L477.8 188.4L476.8 187.7L476.4 186.7L477.4 185.3L479.9 184.7L501.4 183.6L520.4 183.6L523.0 184.0L524.7 185.0L525.0 186.3L524.0 187.7L522.4 188.5L520.1 189.0Z"/>
<path fill="#fffa00" fill-rule="evenodd" d="M400.8 26.5L397.0 26.6L397.0 15.0L407.8 15.2L415.8 17.9L421.8 19.0L426.1 19.3L450.1 19.1L452.8 18.2L456.0 15.5L459.4 14.7L471.1 14.5L473.1 14.8L474.2 15.8L473.7 16.8L472.4 17.5L463.6 19.8L460.4 22.8L457.7 23.8L424.1 24.1L400.8 26.5ZM398.8 66.8L397.0 66.9L397.0 64.3L400.5 64.7L401.7 65.4L401.2 66.2L398.8 66.8ZM448.8 66.4L439.5 66.3L437.1 65.9L436.2 65.4L438.1 64.7L445.8 64.4L450.1 64.6L451.7 65.4L450.8 66.1L448.8 66.4ZM399.2 97.1L397.0 97.2L397.0 92.6L401.2 93.1L403.1 94.4L403.0 95.4L402.4 96.1L399.2 97.1ZM457.4 101.4L438.0 101.4L434.7 100.7L433.8 100.1L433.6 99.4L434.8 98.1L437.8 97.4L456.1 97.4L459.1 98.1L460.3 99.4L459.5 100.7L457.4 101.4ZM398.5 130.1L397.0 130.2L397.0 125.6L399.8 126.3L401.2 127.7L401.2 128.7L400.6 129.4L398.5 130.1ZM412.8 186.0L397.0 186.1L397.0 183.6L408.8 183.8L413.8 184.3L415.3 185.0L414.7 185.7L412.8 186.0ZM435.8 186.0L430.8 186.1L428.4 185.3L429.1 184.7L431.8 184.3L435.1 184.4L437.2 185.0L437.0 185.7L435.8 186.0Z"/>
<path fill="#ffa500" fill-rule="evenodd" d="M399.8 25.8L397.0 25.9L397.0 17.4L403.5 17.6L408.2 18.3L415.4 20.8L417.0 22.1L416.4 23.1L413.4 24.1L399.8 25.8Z"/>
<path fill="#ff3c0a" fill-rule="evenodd" d="M401.2 24.8L397.0 25.0L397.0 19.3L401.8 19.5L405.5 20.1L408.5 21.1L409.6 22.1L409.3 22.8L407.9 23.5L401.2 24.8Z"/></g>
<rect x="309.0" y="29.00" width="12.0" height="17.16" fill="#ff3c0a"/>
<rect x="309.0" y="45.86" width="12.0" height="17.16" fill="#ffa500"/>
<rect x="309.0" y="62.72" width="12.0" height="17.16" fill="#fffa00"/>
<rect x="309.0" y="79.58" width="12.0" height="17.16" fill="#c8ff00"/>
<rect x="309.0" y="96.44" width="12.0" height="17.16" fill="#5fff00"/>
<rect x="309.0" y="113.30" width="12.0" height="17.16" fill="#00ff6e"/>
<rect x="309.0" y="130.16" width="12.0" height="17.16" fill="#00ffbc"/>
<rect x="309.0" y="147.02" width="12.0" height="17.16" fill="#00fcfc"/>
<rect x="309.0" y="163.88" width="12.0" height="17.16" fill="#009bfa"/>
<rect x="309.0" y="180.74" width="12.0" height="17.16" fill="#0037f0"/>
<line x1="321.0" y1="29.00" x2="322.6" y2="29.00" stroke="#c8c8c8" stroke-width="0.7"/>
<line x1="321.0" y1="45.86" x2="322.6" y2="45.86" stroke="#c8c8c8" stroke-width="0.7"/>
<line x1="321.0" y1="62.72" x2="322.6" y2="62.72" stroke="#c8c8c8" stroke-width="0.7"/>
<line x1="321.0" y1="79.58" x2="322.6" y2="79.58" stroke="#c8c8c8" stroke-width="0.7"/>
<line x1="321.0" y1="96.44" x2="322.6" y2="96.44" stroke="#c8c8c8" stroke-width="0.7"/>
<line x1="321.0" y1="113.30" x2="322.6" y2="113.30" stroke="#c8c8c8" stroke-width="0.7"/>
<line x1="321.0" y1="130.16" x2="322.6" y2="130.16" stroke="#c8c8c8" stroke-width="0.7"/>
<line x1="321.0" y1="147.02" x2="322.6" y2="147.02" stroke="#c8c8c8" stroke-width="0.7"/>
<line x1="321.0" y1="163.88" x2="322.6" y2="163.88" stroke="#c8c8c8" stroke-width="0.7"/>
<line x1="321.0" y1="180.74" x2="322.6" y2="180.74" stroke="#c8c8c8" stroke-width="0.7"/>
<line x1="321.0" y1="197.60" x2="322.6" y2="197.60" stroke="#c8c8c8" stroke-width="0.7"/>
<text transform="matrix(1.094 0 0 1.018 308.4 13.1)" class="t1">Nh3.Mass Fraction</text>
<text transform="matrix(1.018 0 0 1.018 308.6 21.2)" class="t2">catalyst upstream</text>
<g transform="matrix(0.957 0 0 1.018 326.0 33.38)" class="lb"><text transform="scale(1.050 1)">7.105</text><text x="30.0" y="0.8" class="tm">×</text><text x="39.6">10</text><text x="51.1" y="-3.0" class="sp">-5</text></g>
<g transform="matrix(0.957 0 0 1.018 326.0 50.24)" class="lb"><text transform="scale(1.050 1)">6.820</text><text x="30.0" y="0.8" class="tm">×</text><text x="39.6">10</text><text x="51.1" y="-3.0" class="sp">-5</text></g>
<g transform="matrix(0.957 0 0 1.018 326.0 67.10)" class="lb"><text transform="scale(1.050 1)">6.535</text><text x="30.0" y="0.8" class="tm">×</text><text x="39.6">10</text><text x="51.1" y="-3.0" class="sp">-5</text></g>
<g transform="matrix(0.957 0 0 1.018 326.0 83.96)" class="lb"><text transform="scale(1.050 1)">6.251</text><text x="30.0" y="0.8" class="tm">×</text><text x="39.6">10</text><text x="51.1" y="-3.0" class="sp">-5</text></g>
<g transform="matrix(0.957 0 0 1.018 326.0 100.82)" class="lb"><text transform="scale(1.050 1)">5.966</text><text x="30.0" y="0.8" class="tm">×</text><text x="39.6">10</text><text x="51.1" y="-3.0" class="sp">-5</text></g>
<g transform="matrix(0.957 0 0 1.018 326.0 117.68)" class="lb"><text transform="scale(1.050 1)">5.681</text><text x="30.0" y="0.8" class="tm">×</text><text x="39.6">10</text><text x="51.1" y="-3.0" class="sp">-5</text></g>
<g transform="matrix(0.957 0 0 1.018 326.0 134.54)" class="lb"><text transform="scale(1.050 1)">5.397</text><text x="30.0" y="0.8" class="tm">×</text><text x="39.6">10</text><text x="51.1" y="-3.0" class="sp">-5</text></g>
<g transform="matrix(0.957 0 0 1.018 326.0 151.40)" class="lb"><text transform="scale(1.050 1)">5.112</text><text x="30.0" y="0.8" class="tm">×</text><text x="39.6">10</text><text x="51.1" y="-3.0" class="sp">-5</text></g>
<g transform="matrix(0.957 0 0 1.018 326.0 168.26)" class="lb"><text transform="scale(1.050 1)">4.827</text><text x="30.0" y="0.8" class="tm">×</text><text x="39.6">10</text><text x="51.1" y="-3.0" class="sp">-5</text></g>
<g transform="matrix(0.957 0 0 1.018 326.0 185.12)" class="lb"><text transform="scale(1.050 1)">4.543</text><text x="30.0" y="0.8" class="tm">×</text><text x="39.6">10</text><text x="51.1" y="-3.0" class="sp">-5</text></g>
<g transform="matrix(0.957 0 0 1.018 326.0 201.98)" class="lb"><text transform="scale(1.050 1)">4.258</text><text x="30.0" y="0.8" class="tm">×</text><text x="39.6">10</text><text x="51.1" y="-3.0" class="sp">-5</text></g>
<g filter="url(#sf)"><rect x="114.7" y="236.0" width="144.2" height="199.0" fill="#0037f0"/>
<path fill="#009bfa" fill-rule="evenodd" d="M258.9 435.0L143.6 435.0L143.2 431.2L141.5 429.3L138.5 428.2L133.2 428.0L127.9 428.2L124.5 429.4L122.5 431.5L122.0 435.0L114.7 435.0L114.7 236.0L258.9 236.0L258.9 435.0ZM140.9 282.2L142.3 281.5L142.4 280.8L141.6 280.2L140.5 280.1L139.6 280.8L139.8 281.8L140.9 282.2ZM151.2 382.8L155.5 382.2L156.6 381.5L156.9 380.5L155.5 379.1L152.5 378.2L136.8 378.0L132.8 378.2L128.5 379.1L126.3 379.8L125.3 380.8L125.9 381.9L128.9 382.6L140.8 383.0L151.2 382.8ZM145.2 411.2L153.1 410.8L156.3 410.2L159.6 407.5L163.5 405.2L164.5 403.9L164.5 402.8L163.0 401.5L160.5 400.9L148.5 400.7L135.5 401.2L132.9 401.8L131.7 402.8L131.6 403.8L132.2 405.2L137.5 410.2L140.5 411.1L145.2 411.2Z"/>
<path fill="#00fcfc" fill-rule="evenodd" d="M258.9 435.0L150.7 435.0L150.5 431.2L149.5 429.2L145.4 426.5L142.2 423.6L140.2 422.9L137.5 422.7L131.2 422.8L126.3 423.5L124.8 424.2L122.4 426.8L120.5 428.1L117.9 429.0L114.7 429.3L114.7 236.0L258.9 236.0L258.9 435.0ZM149.1 262.5L151.1 261.5L151.7 260.5L151.2 259.2L149.5 258.2L147.5 257.8L145.2 258.1L143.5 258.8L142.3 260.2L142.7 261.5L144.5 262.5L146.8 262.8L149.1 262.5ZM135.5 262.5L137.3 261.5L137.8 260.5L137.0 259.2L135.2 258.2L133.5 257.9L131.5 258.2L129.5 259.1L128.5 260.2L129.1 261.5L130.9 262.4L133.2 262.8L135.5 262.5ZM141.6 284.5L147.5 283.3L154.5 282.8L156.5 282.2L157.5 281.2L157.8 280.2L157.5 276.2L155.8 274.8L152.5 274.2L141.8 273.8L138.1 274.5L136.8 275.5L135.7 277.5L134.8 280.2L134.9 281.8L135.9 283.2L137.5 284.1L139.5 284.5L141.6 284.5ZM135.0 306.2L136.5 305.5L137.7 304.2L137.9 302.8L137.2 301.5L135.5 300.6L133.5 300.5L131.5 300.9L130.2 301.8L129.5 303.8L130.5 305.5L132.5 306.3L135.0 306.2ZM152.5 356.5L155.8 355.4L156.9 354.5L157.4 353.2L157.1 352.2L156.2 351.2L152.8 349.9L134.5 349.8L131.4 350.8L130.2 351.8L129.7 352.8L129.9 354.2L130.9 355.2L134.2 356.5L152.5 356.5ZM150.1 384.5L156.2 384.0L161.5 382.8L163.8 381.8L164.4 380.5L162.9 378.8L157.5 374.8L155.5 373.8L152.2 373.3L139.5 373.0L133.5 373.4L130.5 374.2L123.2 378.5L121.6 379.8L121.0 380.8L121.3 381.8L122.5 382.7L126.5 383.9L140.2 384.6L150.1 384.5ZM142.9 412.8L155.5 412.2L162.7 410.8L164.8 409.8L170.4 405.5L171.5 404.2L171.6 402.8L169.8 401.2L165.5 399.4L161.8 398.4L158.2 398.0L139.8 398.3L131.6 399.8L129.5 400.7L128.2 401.8L127.6 403.2L127.9 404.8L131.2 410.1L132.2 411.1L136.5 412.5L142.9 412.8Z"/>
<path fill="#00ffbc" fill-rule="evenodd" d="M258.9 435.0L165.3 435.0L165.1 431.8L164.3 430.2L159.5 427.0L156.4 423.8L154.2 423.2L147.8 422.5L138.8 420.8L132.5 420.9L124.5 422.1L121.9 423.2L118.5 425.9L114.7 426.6L114.7 382.4L117.9 382.7L126.9 384.9L139.5 385.9L145.5 385.9L155.5 385.2L169.1 383.2L175.5 382.8L177.8 382.2L178.6 381.5L178.7 380.8L178.1 379.8L176.5 378.8L168.8 377.4L167.1 376.5L164.1 374.2L160.1 372.8L154.5 371.8L140.5 371.2L132.2 371.8L127.3 372.8L124.9 374.0L122.2 376.5L119.9 378.1L117.5 379.0L114.7 379.3L114.7 236.0L258.9 236.0L258.9 285.6L255.4 285.4L253.4 284.7L252.1 283.5L250.5 280.2L249.1 279.3L247.4 278.9L243.1 278.7L240.1 279.2L238.1 280.5L237.6 282.2L237.9 283.5L238.7 284.5L243.5 287.2L245.7 291.6L250.5 294.5L252.7 298.5L255.1 299.7L258.9 300.0L258.9 378.0L228.4 378.1L219.8 379.2L198.5 380.1L196.5 380.6L195.4 381.5L195.7 382.2L196.8 382.8L202.8 384.4L205.8 385.5L207.2 386.5L208.1 387.8L209.9 393.2L210.2 395.5L209.9 398.2L208.4 403.5L208.4 409.2L209.1 411.2L210.6 412.5L212.4 413.3L218.8 413.9L220.8 414.4L222.1 415.4L223.8 417.8L225.1 418.6L229.4 419.3L235.1 418.8L236.6 417.8L238.0 415.5L239.3 414.5L241.4 413.9L249.1 413.0L250.8 411.8L252.2 408.8L253.1 407.8L255.1 407.0L258.9 406.7L258.9 435.0ZM149.0 263.8L155.2 262.3L162.5 261.5L163.9 260.8L164.2 259.8L163.2 258.6L161.2 257.8L147.2 255.6L140.2 256.5L135.2 255.9L132.8 256.0L127.4 258.2L125.7 259.2L124.9 260.2L125.2 261.2L126.7 262.2L132.2 263.9L134.8 264.1L139.8 263.6L145.5 264.1L149.0 263.8ZM140.9 285.8L147.2 284.8L157.2 284.3L163.1 282.8L164.6 281.8L165.1 280.8L165.0 276.2L164.3 275.2L163.2 274.5L159.6 273.5L155.1 272.8L142.5 272.0L137.5 272.3L132.4 274.2L131.2 275.5L129.8 279.8L129.6 281.2L130.0 282.2L131.8 283.5L135.8 285.1L138.5 285.8L140.9 285.8ZM134.9 308.5L148.2 306.4L149.8 305.2L151.2 302.2L152.5 301.0L154.5 300.3L161.8 299.4L163.7 298.2L164.0 296.8L162.4 295.8L159.8 295.4L141.2 294.8L138.5 295.3L135.1 297.5L129.2 299.9L127.7 301.2L126.8 302.8L127.1 304.8L128.9 306.8L131.9 308.2L134.9 308.5ZM146.3 335.2L154.5 333.7L156.1 333.2L157.3 332.2L157.9 330.2L157.9 325.5L157.5 323.8L156.5 322.5L154.8 321.8L152.2 321.4L135.8 321.4L132.2 322.1L129.9 323.8L129.2 325.8L129.2 330.2L129.7 331.8L130.7 332.8L133.2 333.8L139.5 335.0L146.3 335.2ZM146.2 362.2L152.8 362.0L155.8 361.3L161.2 357.4L167.8 356.3L169.8 355.6L171.4 354.2L171.6 352.5L170.5 351.2L168.8 350.3L160.8 348.8L159.3 347.8L157.2 345.5L155.4 344.5L147.5 343.0L143.5 342.7L138.5 343.1L131.2 344.8L129.7 345.8L127.2 348.5L123.9 350.9L122.6 352.5L122.6 353.8L123.6 355.2L131.2 361.3L133.8 362.0L138.5 362.5L146.2 362.2ZM144.9 413.8L162.5 412.5L169.6 411.2L171.6 410.2L178.0 405.2L178.9 403.8L178.9 402.8L177.1 401.2L168.4 397.8L162.8 395.0L158.9 394.5L144.5 393.7L141.2 393.8L138.5 394.5L134.5 396.8L125.6 400.5L123.5 401.8L122.7 402.8L122.6 403.8L123.1 404.8L126.0 407.8L128.0 410.8L130.3 412.5L132.8 413.4L136.5 414.0L144.9 413.8Z"/>
<path fill="#00ff6e" fill-rule="evenodd" d="M191.8 378.9L188.1 379.0L184.1 378.1L181.6 376.8L178.7 374.2L176.1 373.2L168.8 372.7L155.2 370.6L146.5 370.2L140.2 369.5L131.2 370.6L125.4 371.8L122.1 373.2L118.2 376.0L114.7 376.6L114.7 356.7L119.2 357.5L123.7 361.2L126.9 362.5L132.2 363.8L140.5 364.9L146.5 364.2L154.5 363.8L161.8 362.3L169.8 361.5L171.5 360.7L174.5 357.8L178.1 355.7L178.9 354.8L179.3 353.5L178.9 352.2L178.1 351.2L174.2 348.5L170.2 344.8L153.8 341.0L152.1 340.2L151.5 339.2L151.8 338.2L153.2 337.3L159.8 335.7L162.8 334.5L164.6 332.8L166.5 329.7L170.5 327.5L171.7 326.2L171.9 324.8L171.2 323.5L166.5 320.2L164.2 315.8L159.4 313.2L158.6 312.2L158.3 310.8L158.5 309.5L159.2 308.4L163.9 305.8L166.7 301.8L171.0 298.8L171.6 297.8L171.4 296.8L169.5 295.5L163.2 294.0L147.5 293.5L140.2 292.4L136.5 293.0L130.5 295.5L123.9 300.8L122.4 303.2L122.5 304.2L123.3 305.5L127.5 309.2L128.6 310.5L129.0 312.2L129.1 314.8L129.0 317.2L128.4 318.8L123.5 322.8L122.4 324.5L122.0 327.2L122.2 331.2L123.0 332.5L124.5 333.5L134.6 337.5L135.5 338.5L135.5 339.5L133.8 340.9L123.8 344.8L119.2 348.8L114.7 349.6L114.7 236.0L129.0 236.0L129.5 239.2L130.4 240.2L132.2 241.1L140.2 242.8L146.8 243.0L153.2 242.8L163.0 240.5L164.8 239.1L165.3 236.0L258.9 236.0L258.9 271.7L249.2 271.5L247.1 271.0L245.7 270.2L244.7 268.2L244.5 261.5L244.0 259.5L242.7 258.2L238.4 255.9L236.7 252.5L235.4 251.3L233.1 250.6L229.4 250.4L226.4 250.7L224.4 251.5L223.5 252.5L223.1 253.8L222.9 260.2L222.3 262.2L221.0 263.5L217.1 265.5L216.0 267.2L215.7 281.2L216.4 283.2L218.6 284.8L220.8 285.5L226.1 285.9L228.4 286.8L229.6 288.5L229.4 290.5L228.4 291.8L226.4 292.6L219.1 293.3L211.0 294.8L209.2 295.8L207.4 298.5L206.0 299.5L196.8 301.8L195.0 302.8L194.6 304.5L195.1 305.5L196.1 306.2L198.5 306.8L204.8 307.3L206.4 308.0L207.4 308.8L208.2 311.5L208.0 318.5L206.8 320.2L202.4 322.8L200.7 326.2L199.5 327.4L197.1 328.1L189.8 328.8L188.1 329.6L187.3 330.8L187.6 332.2L188.9 333.2L198.5 335.6L199.9 336.5L200.9 337.8L201.1 339.5L200.3 341.2L195.7 344.2L194.3 346.2L194.1 352.8L194.6 354.5L195.5 355.5L197.5 356.3L200.8 356.6L237.1 356.7L237.3 366.2L236.8 368.8L235.8 370.0L234.1 370.8L224.8 373.1L221.7 375.5L219.8 376.3L205.8 377.8L197.1 378.1L191.8 378.9ZM142.5 265.5L147.8 265.1L154.8 263.9L162.8 263.5L175.4 262.2L177.7 261.5L178.4 260.5L178.0 259.8L176.8 259.2L171.1 257.9L168.5 256.9L163.1 252.8L153.5 250.6L148.8 250.3L140.8 250.5L133.8 251.9L131.9 252.8L128.4 255.8L122.5 258.7L121.2 260.2L121.6 261.2L123.2 262.2L131.2 264.7L135.5 265.4L142.5 265.5ZM141.0 287.2L146.8 285.9L159.2 285.3L169.8 283.5L182.5 283.4L184.5 282.8L185.6 281.5L184.7 280.2L182.8 279.2L174.5 277.9L171.0 274.5L168.2 273.4L162.8 272.4L140.5 270.2L134.8 271.3L130.0 273.2L127.9 274.8L126.2 277.6L123.1 280.8L123.4 282.2L125.9 283.5L137.2 287.0L141.0 287.2ZM258.9 356.7L237.4 356.7L237.4 353.2L237.9 351.8L238.7 350.8L243.5 348.2L245.2 344.8L246.7 343.5L250.1 342.8L258.9 342.7L258.9 356.7ZM196.5 406.5L187.2 406.5L186.3 403.2L184.7 401.5L174.8 397.5L171.2 395.2L169.1 394.3L164.2 393.3L145.5 391.1L141.2 391.1L137.2 392.1L131.2 394.3L126.7 397.5L121.9 399.9L118.5 400.9L114.7 401.3L114.7 383.8L118.9 384.0L126.9 385.8L142.8 387.6L147.2 387.4L161.5 385.4L176.8 384.5L185.5 383.4L190.5 383.7L198.8 385.6L201.0 386.5L202.5 387.8L203.8 390.8L205.8 393.9L206.2 396.2L205.5 398.2L202.2 401.5L200.1 405.2L198.8 406.0L196.5 406.5ZM195.8 429.5L189.5 429.7L181.1 428.2L170.1 427.7L167.6 426.8L164.4 423.8L161.5 422.5L156.5 421.6L147.2 420.6L138.5 418.8L133.5 419.0L118.2 422.6L114.7 422.9L114.7 406.7L119.2 407.5L123.8 411.2L131.2 414.6L134.5 415.6L137.8 415.9L149.3 414.5L164.5 413.5L172.5 412.5L177.7 411.2L182.1 407.9L185.8 407.1L186.4 407.5L187.2 410.2L188.9 411.5L196.1 413.2L202.8 413.8L205.1 414.4L207.2 415.8L209.4 419.2L211.1 420.1L225.1 421.8L233.8 422.3L236.1 423.1L236.9 424.5L236.6 425.8L235.8 426.8L232.8 427.8L207.1 428.1L195.8 429.5Z"/>
<path fill="#5fff00" fill-rule="evenodd" d="M184.1 256.5L181.5 256.7L175.5 255.7L173.5 254.8L171.3 252.8L169.3 251.8L159.2 249.6L156.8 247.8L156.5 246.8L156.6 245.8L158.3 244.2L161.8 243.1L170.1 241.8L180.8 241.6L183.8 241.2L185.3 240.5L186.2 239.5L186.6 236.0L222.9 236.0L222.8 239.5L222.1 241.2L221.0 242.2L216.8 244.4L215.0 248.2L213.5 249.5L211.1 250.2L205.4 250.5L199.5 251.4L189.8 252.1L187.8 253.0L185.8 255.5L184.1 256.5ZM116.5 258.5L114.7 258.7L114.7 240.7L121.9 240.9L125.9 241.4L133.0 244.2L135.5 245.8L135.7 246.8L135.2 247.8L129.5 251.3L125.5 255.1L119.9 257.7L116.5 258.5ZM116.5 278.5L114.7 278.6L114.7 261.5L118.5 262.0L127.5 264.5L133.7 266.8L135.0 267.8L134.8 268.8L133.3 269.8L123.8 274.5L119.5 277.6L116.5 278.5ZM196.5 278.5L192.5 278.5L189.8 277.9L188.0 276.8L185.4 274.2L183.1 273.3L176.1 272.8L165.8 271.4L151.5 270.2L146.8 269.2L145.6 268.5L145.5 267.8L147.2 266.8L154.2 265.2L176.5 264.2L185.8 263.0L199.5 263.2L204.1 264.1L206.8 265.3L207.5 266.2L208.0 267.5L208.0 268.8L207.3 270.2L202.6 273.5L199.8 277.5L196.5 278.5ZM116.5 299.8L114.7 300.0L114.7 283.1L119.5 283.5L127.9 285.6L132.8 287.5L135.2 289.2L135.2 290.2L133.4 291.5L124.2 295.5L119.5 299.0L116.5 299.8ZM193.5 299.2L190.8 299.5L188.8 299.1L187.5 298.2L185.5 295.8L183.1 294.8L175.5 294.6L161.5 292.5L147.2 292.1L143.9 291.2L143.0 290.5L142.5 289.5L143.2 288.5L144.2 287.8L147.8 286.9L159.8 286.4L170.5 285.1L183.1 285.4L191.8 283.9L210.8 285.9L213.3 286.8L214.7 288.2L214.9 289.5L213.7 290.8L205.4 293.0L202.8 294.5L199.5 297.8L193.5 299.2ZM116.2 321.2L114.7 321.3L114.7 307.0L117.9 307.4L119.9 308.3L121.2 309.5L121.9 311.5L121.9 316.5L121.4 318.5L119.5 320.3L116.2 321.2ZM190.1 322.5L182.8 322.6L177.1 321.5L173.6 319.5L172.8 318.2L172.8 316.8L174.0 315.2L178.5 312.3L181.0 308.5L182.8 307.8L184.5 308.1L185.7 308.8L187.9 311.8L193.5 314.0L194.6 314.8L195.5 316.2L195.7 318.5L194.9 320.5L193.0 321.8L190.1 322.5ZM117.2 343.8L114.7 344.0L114.7 334.0L118.2 334.3L121.2 335.1L126.5 337.2L128.0 338.5L127.8 339.8L125.9 341.2L120.5 343.1L117.2 343.8ZM184.1 348.6L181.5 348.0L177.4 344.5L167.2 340.6L166.0 339.5L166.1 337.8L167.8 336.2L170.1 335.1L173.5 334.3L177.8 334.0L184.1 334.6L192.3 337.5L193.3 338.8L193.0 340.5L188.2 344.2L185.8 347.6L184.1 348.6ZM115.9 373.2L114.7 373.2L114.7 361.7L121.2 362.6L132.4 365.8L134.6 367.2L133.9 368.2L132.2 368.8L118.9 372.7L115.9 373.2ZM196.8 376.2L189.5 376.2L187.8 375.5L184.1 372.8L179.5 371.5L161.2 370.2L154.2 368.9L147.5 368.3L146.1 367.8L145.8 367.2L147.8 366.2L154.2 365.7L161.5 364.2L169.8 363.8L177.5 362.7L192.5 362.1L212.1 362.8L225.4 364.2L228.1 365.0L229.3 366.5L228.8 368.2L227.2 369.2L211.1 372.7L206.0 375.5L203.1 376.0L196.8 376.2ZM117.2 399.2L114.7 399.3L114.7 384.6L119.9 385.0L130.8 387.5L133.3 388.2L134.7 389.2L134.5 389.8L133.6 390.5L125.9 393.9L121.5 398.0L117.2 399.2ZM193.5 400.2L189.5 400.1L184.4 398.5L181.5 397.2L178.1 394.5L175.4 393.5L170.1 392.5L157.9 391.2L153.9 390.2L152.7 389.2L153.8 388.2L156.0 387.5L163.8 386.3L186.1 385.4L190.5 385.5L194.1 386.3L197.1 387.2L198.8 388.5L200.9 395.5L200.3 397.2L198.8 398.5L196.5 399.5L193.5 400.2ZM117.2 421.2L114.7 421.3L114.7 411.8L119.5 412.2L125.4 413.8L128.4 415.2L129.9 416.8L129.2 418.2L127.2 419.2L117.2 421.2ZM193.5 427.5L189.8 427.6L187.1 426.9L185.6 425.8L183.8 423.1L182.1 422.3L170.1 421.9L152.2 419.7L147.0 418.5L145.9 417.8L145.8 417.2L147.7 416.2L153.2 415.2L170.5 414.2L181.8 412.9L184.5 413.1L192.4 415.8L195.7 419.2L199.5 421.4L200.5 422.5L200.9 424.2L199.8 425.7L197.5 426.7L193.5 427.5Z"/>
<path fill="#c8ff00" fill-rule="evenodd" d="M116.9 255.8L114.7 256.0L114.7 242.4L120.9 242.6L125.2 243.1L128.2 244.2L129.9 245.5L130.3 246.5L130.2 247.5L128.5 249.4L120.3 254.8L116.9 255.8ZM182.1 250.2L176.8 250.2L163.8 248.4L161.5 247.6L160.9 246.5L162.2 245.4L165.5 244.7L183.1 244.3L193.1 243.0L198.5 243.5L199.8 244.2L200.7 245.5L200.8 246.5L200.2 247.5L198.1 248.6L188.5 249.2L182.1 250.2ZM114.7 274.2L114.7 274.2L114.7 263.0L119.5 263.4L126.5 265.1L129.6 266.5L130.8 267.8L130.7 268.8L130.0 269.8L126.9 271.7L119.9 273.7L114.7 274.2ZM195.5 271.5L191.1 271.5L183.1 270.4L156.5 269.0L153.7 268.5L153.2 267.8L154.2 267.2L156.5 266.8L185.8 265.7L196.6 265.8L198.8 266.3L200.2 267.2L200.6 268.5L199.8 269.8L198.1 270.9L195.5 271.5ZM116.9 295.2L114.7 295.3L114.7 284.6L119.9 285.0L125.0 286.2L128.5 287.5L130.0 288.8L129.8 290.5L127.6 292.2L121.2 294.4L116.9 295.2ZM193.5 293.9L189.8 293.8L183.1 292.2L174.5 292.8L168.1 292.2L160.5 290.8L149.7 290.5L148.1 290.2L147.4 289.5L148.0 288.8L149.2 288.5L160.2 288.0L169.1 286.4L175.8 286.4L183.1 287.1L190.8 285.9L197.0 286.8L198.9 287.5L200.3 288.5L200.6 290.2L199.2 291.8L196.8 293.1L193.5 293.9ZM188.1 319.8L182.5 319.5L180.8 318.5L180.5 317.2L181.6 315.8L183.8 315.1L186.8 315.3L190.0 316.2L191.1 317.2L191.1 318.5L190.1 319.3L188.1 319.8ZM116.9 341.2L114.7 341.3L114.7 336.7L118.7 337.2L120.8 338.5L120.8 339.5L120.2 340.2L116.9 341.2ZM182.8 341.9L180.1 341.8L175.4 340.8L173.7 339.8L173.3 338.5L174.5 337.5L177.1 336.8L181.1 336.8L183.8 337.3L185.6 338.5L185.8 339.8L184.7 341.2L182.8 341.9ZM116.9 371.5L114.7 371.6L114.7 363.4L118.5 363.6L121.5 364.2L125.7 365.8L127.4 367.2L126.9 368.2L124.2 369.5L120.2 370.9L116.9 371.5ZM198.5 372.2L190.8 372.1L183.1 369.9L179.5 369.3L162.8 368.5L160.6 367.8L160.3 367.2L161.3 366.5L163.2 366.1L181.5 365.3L188.8 364.2L193.8 364.0L198.8 364.2L205.1 365.1L211.4 365.6L213.5 366.2L214.6 367.2L214.4 368.2L212.8 369.2L198.5 372.2ZM117.2 397.2L114.7 397.4L114.7 385.3L121.2 386.1L125.1 387.5L127.4 388.8L127.7 389.5L127.0 390.5L122.6 393.5L119.2 396.4L117.2 397.2ZM191.1 397.2L189.6 397.2L188.1 396.6L185.1 393.3L182.1 392.0L176.8 391.0L163.0 389.8L161.6 389.5L161.1 388.8L162.8 388.2L167.5 387.8L185.8 387.3L191.1 387.8L192.6 388.5L193.5 389.5L193.8 392.5L193.4 395.8L192.5 396.7L191.1 397.2ZM118.2 419.8L114.7 420.0L114.7 413.7L121.5 414.4L124.6 415.5L125.8 416.5L125.7 417.5L124.7 418.2L118.2 419.8ZM183.1 419.2L168.4 419.2L156.2 418.2L154.1 417.5L155.1 416.8L157.8 416.5L181.8 415.4L184.1 415.8L185.7 417.2L185.5 418.5L183.1 419.2ZM191.8 424.9L190.5 424.9L189.5 424.2L189.3 423.2L189.8 422.2L191.4 422.2L192.7 423.2L192.8 424.2L191.8 424.9Z"/>
<path fill="#fffa00" fill-rule="evenodd" d="M117.2 251.5L114.7 251.6L114.7 243.6L122.5 244.3L125.2 245.1L126.4 246.2L126.2 247.8L124.6 249.2L120.5 250.8L117.2 251.5ZM118.5 272.5L114.7 272.7L114.7 263.9L119.2 264.2L123.5 265.2L126.5 266.2L128.1 267.5L128.0 269.2L126.3 270.5L122.5 271.8L118.5 272.5ZM117.5 293.5L114.7 293.6L114.7 285.7L118.9 285.9L121.9 286.5L124.6 287.5L126.4 288.8L126.4 290.2L124.7 291.5L121.2 292.9L117.5 293.5ZM176.5 290.6L173.8 290.8L169.8 290.5L167.8 289.8L167.5 289.2L168.6 288.5L170.3 288.2L175.5 288.2L177.9 289.2L177.9 289.8L176.5 290.6ZM190.8 290.8L188.8 290.5L188.1 289.8L188.2 289.2L190.1 288.4L192.2 288.8L192.7 289.5L192.5 290.2L190.8 290.8ZM117.5 370.2L114.7 370.3L114.7 364.7L119.7 365.2L121.4 365.8L122.6 366.8L122.6 367.8L121.7 368.8L117.5 370.2ZM196.1 369.5L190.1 369.2L188.6 368.5L188.1 367.5L189.8 366.4L194.1 366.0L198.1 366.4L199.9 367.5L199.9 368.2L199.1 368.8L196.1 369.5ZM114.7 394.2L114.7 386.1L120.2 386.7L122.2 387.5L123.5 388.5L123.8 389.2L123.6 390.2L121.5 392.2L118.5 393.6L114.7 394.2ZM116.5 418.2L114.7 418.3L114.7 415.7L118.2 416.0L119.6 416.8L118.9 417.7L116.5 418.2Z"/>
<path fill="#ffa500" fill-rule="evenodd" d="M116.5 248.9L114.7 248.9L114.7 245.4L118.5 245.7L120.4 246.5L120.6 247.2L119.9 248.0L116.5 248.9ZM118.2 271.5L114.7 271.7L114.7 264.8L121.3 265.5L124.1 266.5L125.6 267.8L125.5 268.8L123.9 270.1L118.2 271.5ZM117.9 292.2L114.7 292.3L114.7 286.7L119.9 287.3L121.4 287.8L122.6 288.8L122.8 289.8L121.9 290.8L120.2 291.7L117.9 292.2ZM115.5 368.5L114.7 368.5L114.7 366.5L117.9 367.2L118.0 367.5L117.5 368.0L115.5 368.5ZM116.5 392.2L114.7 392.3L114.7 387.0L118.9 387.4L120.9 388.5L121.2 389.5L120.4 390.8L118.9 391.7L116.5 392.2Z"/>
<path fill="#ff3c0a" fill-rule="evenodd" d="M117.2 270.5L114.7 270.6L114.7 265.7L119.5 266.2L121.3 266.8L122.4 267.8L122.2 268.8L121.3 269.5L117.2 270.5ZM115.9 290.5L114.7 290.6L114.7 288.4L116.9 288.6L118.2 289.2L117.9 290.0L115.9 290.5ZM114.7 390.2L114.7 388.5L117.0 389.2L116.6 389.8L114.7 390.2Z"/></g>
<rect x="21.3" y="258.90" width="12.5" height="17.30" fill="#ff3c0a"/>
<rect x="21.3" y="275.90" width="12.5" height="17.30" fill="#ffa500"/>
<rect x="21.3" y="292.90" width="12.5" height="17.30" fill="#fffa00"/>
<rect x="21.3" y="309.90" width="12.5" height="17.30" fill="#c8ff00"/>
<rect x="21.3" y="326.90" width="12.5" height="17.30" fill="#5fff00"/>
<rect x="21.3" y="343.90" width="12.5" height="17.30" fill="#00ff6e"/>
<rect x="21.3" y="360.90" width="12.5" height="17.30" fill="#00ffbc"/>
<rect x="21.3" y="377.90" width="12.5" height="17.30" fill="#00fcfc"/>
<rect x="21.3" y="394.90" width="12.5" height="17.30" fill="#009bfa"/>
<rect x="21.3" y="411.90" width="12.5" height="17.30" fill="#0037f0"/>
<line x1="33.8" y1="258.90" x2="35.4" y2="258.90" stroke="#c8c8c8" stroke-width="0.7"/>
<line x1="33.8" y1="275.90" x2="35.4" y2="275.90" stroke="#c8c8c8" stroke-width="0.7"/>
<line x1="33.8" y1="292.90" x2="35.4" y2="292.90" stroke="#c8c8c8" stroke-width="0.7"/>
<line x1="33.8" y1="309.90" x2="35.4" y2="309.90" stroke="#c8c8c8" stroke-width="0.7"/>
<line x1="33.8" y1="326.90" x2="35.4" y2="326.90" stroke="#c8c8c8" stroke-width="0.7"/>
<line x1="33.8" y1="343.90" x2="35.4" y2="343.90" stroke="#c8c8c8" stroke-width="0.7"/>
<line x1="33.8" y1="360.90" x2="35.4" y2="360.90" stroke="#c8c8c8" stroke-width="0.7"/>
<line x1="33.8" y1="377.90" x2="35.4" y2="377.90" stroke="#c8c8c8" stroke-width="0.7"/>
<line x1="33.8" y1="394.90" x2="35.4" y2="394.90" stroke="#c8c8c8" stroke-width="0.7"/>
<line x1="33.8" y1="411.90" x2="35.4" y2="411.90" stroke="#c8c8c8" stroke-width="0.7"/>
<line x1="33.8" y1="428.90" x2="35.4" y2="428.90" stroke="#c8c8c8" stroke-width="0.7"/>
<text transform="matrix(1.101 0 0 1.024 21.2 243.1)" class="t1">Nh3.Mass Fraction</text>
<text transform="matrix(1.024 0 0 1.024 21.5 251.2)" class="t2">catalyst upstream</text>
<g transform="matrix(0.963 0 0 1.024 38.6 263.30)" class="lb"><text transform="scale(1.050 1)">1.258</text><text x="30.0" y="0.8" class="tm">×</text><text x="39.6">10</text><text x="51.1" y="-3.0" class="sp">-4</text></g>
<g transform="matrix(0.963 0 0 1.024 38.6 280.30)" class="lb"><text transform="scale(1.050 1)">1.204</text><text x="30.0" y="0.8" class="tm">×</text><text x="39.6">10</text><text x="51.1" y="-3.0" class="sp">-4</text></g>
<g transform="matrix(0.963 0 0 1.024 38.6 297.30)" class="lb"><text transform="scale(1.050 1)">1.150</text><text x="30.0" y="0.8" class="tm">×</text><text x="39.6">10</text><text x="51.1" y="-3.0" class="sp">-4</text></g>
<g transform="matrix(0.963 0 0 1.024 38.6 314.30)" class="lb"><text transform="scale(1.050 1)">1.096</text><text x="30.0" y="0.8" class="tm">×</text><text x="39.6">10</text><text x="51.1" y="-3.0" class="sp">-4</text></g>
<g transform="matrix(0.963 0 0 1.024 38.6 331.30)" class="lb"><text transform="scale(1.050 1)">1.042</text><text x="30.0" y="0.8" class="tm">×</text><text x="39.6">10</text><text x="51.1" y="-3.0" class="sp">-4</text></g>
<g transform="matrix(0.963 0 0 1.024 38.6 348.30)" class="lb"><text transform="scale(1.050 1)">9.884</text><text x="30.0" y="0.8" class="tm">×</text><text x="39.6">10</text><text x="51.1" y="-3.0" class="sp">-5</text></g>
<g transform="matrix(0.963 0 0 1.024 38.6 365.30)" class="lb"><text transform="scale(1.050 1)">9.345</text><text x="30.0" y="0.8" class="tm">×</text><text x="39.6">10</text><text x="51.1" y="-3.0" class="sp">-5</text></g>
<g transform="matrix(0.963 0 0 1.024 38.6 382.30)" class="lb"><text transform="scale(1.050 1)">8.806</text><text x="30.0" y="0.8" class="tm">×</text><text x="39.6">10</text><text x="51.1" y="-3.0" class="sp">-5</text></g>
<g transform="matrix(0.963 0 0 1.024 38.6 399.30)" class="lb"><text transform="scale(1.050 1)">8.267</text><text x="30.0" y="0.8" class="tm">×</text><text x="39.6">10</text><text x="51.1" y="-3.0" class="sp">-5</text></g>
<g transform="matrix(0.963 0 0 1.024 38.6 416.30)" class="lb"><text transform="scale(1.050 1)">7.728</text><text x="30.0" y="0.8" class="tm">×</text><text x="39.6">10</text><text x="51.1" y="-3.0" class="sp">-5</text></g>
<g transform="matrix(0.963 0 0 1.024 38.6 433.30)" class="lb"><text transform="scale(1.050 1)">7.189</text><text x="30.0" y="0.8" class="tm">×</text><text x="39.6">10</text><text x="51.1" y="-3.0" class="sp">-5</text></g>
<g filter="url(#sf)"><rect x="399.1" y="236.0" width="145.4" height="201.7" fill="#0037f0"/>
<path fill="#009bfa" fill-rule="evenodd" d="M544.5 437.7L442.7 437.7L442.4 434.5L440.6 433.0L437.6 432.4L430.6 432.3L417.6 432.3L411.9 432.8L410.3 433.2L409.0 434.2L408.5 437.7L399.1 437.7L399.1 236.0L544.5 236.0L544.5 437.7Z"/>
<path fill="#00fcfc" fill-rule="evenodd" d="M544.5 437.7L450.1 437.7L449.7 433.9L448.9 432.9L447.3 432.0L440.6 430.6L431.3 430.4L417.9 430.4L409.9 431.3L407.3 432.2L405.4 433.5L404.6 434.9L404.4 437.7L399.1 437.7L399.1 414.7L409.9 415.5L411.9 414.9L412.8 413.9L412.7 413.2L411.9 412.5L409.9 411.9L399.1 411.4L399.1 236.0L544.5 236.0L544.5 437.7Z"/>
<path fill="#00ffbc" fill-rule="evenodd" d="M544.5 437.7L457.2 437.7L456.8 432.9L456.0 431.6L454.8 430.9L449.3 429.4L439.3 428.5L417.6 428.6L409.6 430.0L402.3 432.3L399.1 432.6L399.1 417.4L404.3 418.1L408.2 420.9L410.3 421.7L419.3 423.3L428.3 423.3L431.9 423.0L434.3 421.9L435.0 420.9L435.2 419.5L434.8 418.2L433.9 417.2L429.9 415.2L427.4 412.9L425.6 412.1L417.6 411.4L409.9 410.2L399.1 409.7L399.1 236.0L544.5 236.0L544.5 437.7ZM429.0 349.5L432.6 348.9L433.5 347.9L432.7 347.2L431.3 346.9L426.9 346.7L423.4 347.2L422.2 348.2L422.6 348.9L424.1 349.5L429.0 349.5ZM430.5 378.5L433.6 377.6L434.1 376.9L433.9 376.2L432.8 375.5L430.3 375.0L420.6 374.4L416.6 374.9L415.3 375.5L414.8 376.5L415.9 377.9L418.3 378.5L430.5 378.5Z"/>
<path fill="#00ff6e" fill-rule="evenodd" d="M544.5 437.7L479.1 437.7L479.0 428.5L478.7 427.2L478.0 426.2L476.3 425.4L474.0 425.4L472.5 426.2L471.0 428.5L470.0 429.2L468.0 429.6L466.3 429.2L465.2 428.2L463.3 424.8L458.2 421.9L456.0 417.4L451.6 415.0L449.5 412.5L447.7 411.5L444.6 411.0L433.9 410.9L425.9 410.2L417.6 410.0L405.3 408.7L399.1 408.4L399.1 380.0L408.6 380.1L418.3 381.3L432.3 381.2L436.3 380.7L439.3 379.7L441.4 378.2L442.0 376.9L441.2 375.5L438.2 374.2L423.6 371.8L417.6 371.8L408.6 372.9L399.1 373.0L399.1 236.0L428.2 236.0L428.5 239.5L430.1 241.2L433.3 241.9L440.3 242.0L457.3 242.0L461.3 241.6L463.1 240.8L464.0 239.8L464.5 236.0L544.5 236.0L544.5 437.7ZM426.0 352.2L442.0 349.7L452.8 349.2L455.0 348.5L455.5 347.9L454.6 347.0L452.5 346.5L441.0 346.3L432.9 345.2L427.3 345.1L422.6 345.3L411.3 346.9L408.9 347.5L408.2 348.2L408.5 348.9L409.9 349.6L419.6 351.9L422.9 352.4L426.0 352.2ZM401.3 430.9L399.1 431.0L399.1 421.5L402.6 421.7L405.3 422.4L411.1 424.9L412.6 426.2L412.2 427.2L410.4 428.2L404.9 430.2L401.3 430.9Z"/>
<path fill="#5fff00" fill-rule="evenodd" d="M518.0 423.2L485.6 423.3L475.0 421.8L473.2 421.2L472.2 420.2L469.1 411.9L468.0 411.0L466.3 410.5L455.3 410.3L445.3 409.1L417.6 408.9L399.1 406.7L399.1 385.4L404.6 385.7L413.3 387.3L437.6 387.1L441.0 385.9L444.1 381.9L448.3 379.3L449.4 378.2L449.7 377.2L449.4 376.2L447.1 374.5L439.6 372.0L431.7 370.9L429.1 369.9L426.4 367.2L422.6 365.0L421.5 363.9L420.9 361.5L421.5 360.2L422.3 359.3L426.3 357.0L429.0 354.5L431.6 353.5L445.0 351.6L454.3 351.2L461.3 350.2L467.6 349.8L470.0 349.0L470.9 347.9L470.2 346.9L468.3 346.2L461.3 345.8L454.8 344.9L430.3 344.0L420.9 344.3L399.1 346.8L399.1 236.0L420.8 236.0L421.3 240.5L422.4 241.8L423.9 242.8L429.3 244.4L437.3 244.7L460.3 244.6L475.6 243.0L477.6 242.2L478.6 240.9L479.1 236.0L544.5 236.0L544.5 365.7L541.0 365.4L539.0 364.7L537.7 363.5L536.0 360.4L531.1 357.2L528.5 353.9L526.7 353.0L517.9 350.9L516.3 349.7L514.5 346.9L512.7 345.9L506.3 345.4L486.3 345.4L482.3 345.8L480.0 347.1L480.0 348.9L481.3 350.2L485.2 352.5L487.3 355.9L488.3 356.9L491.0 358.0L496.6 358.6L498.7 359.2L500.0 360.2L501.4 363.5L502.6 364.7L505.0 365.5L511.0 365.9L513.3 366.5L514.7 367.5L516.0 370.7L517.0 371.9L519.3 372.7L527.3 373.7L529.2 375.2L529.4 377.2L529.0 378.2L527.7 379.2L524.0 380.0L476.3 380.2L473.3 381.2L472.4 382.2L471.9 383.9L471.9 389.5L472.3 391.9L473.6 393.4L476.0 394.1L544.5 394.4L544.5 409.0L540.7 409.4L538.7 410.2L537.7 411.2L536.3 414.2L534.7 415.4L527.0 416.3L524.9 416.9L523.4 418.2L521.7 421.9L520.0 422.8L518.0 423.2ZM429.9 257.5L432.6 256.8L434.6 255.2L435.0 253.2L434.6 252.2L433.6 251.3L429.6 250.4L423.3 250.8L416.6 252.4L414.9 253.5L414.4 254.5L414.5 255.5L415.3 256.4L417.6 257.4L429.9 257.5ZM430.8 286.2L433.3 285.5L434.5 284.5L434.9 283.2L434.0 281.8L432.6 281.2L430.3 280.8L420.3 280.8L417.3 281.5L416.3 282.8L416.9 284.8L418.9 286.0L422.6 286.3L430.8 286.2ZM503.5 307.8L506.3 307.0L507.7 305.5L508.1 300.8L507.7 297.2L506.8 296.2L505.3 295.5L497.0 293.9L486.0 293.7L481.6 294.3L480.0 295.5L478.1 299.2L473.3 301.8L472.1 303.8L472.2 305.2L472.9 306.5L474.3 307.4L476.3 307.8L503.5 307.8ZM438.4 315.2L446.6 313.8L448.2 313.2L449.4 312.2L450.1 310.2L450.1 304.8L449.7 303.2L448.6 301.9L446.6 301.0L443.3 300.7L422.3 300.7L418.3 301.0L415.2 302.5L412.7 306.5L407.9 309.1L406.9 310.8L407.3 312.3L408.9 313.4L417.3 315.1L438.4 315.2ZM437.3 329.5L440.6 328.4L441.7 327.5L442.3 326.2L441.9 324.8L441.0 323.8L437.6 322.6L418.9 322.6L415.6 323.8L414.3 325.8L414.4 327.2L415.0 328.2L416.3 329.0L417.9 329.5L437.3 329.5ZM403.9 366.9L399.1 367.0L399.1 350.0L403.9 350.6L410.8 352.9L412.6 353.9L413.6 355.5L413.8 361.5L412.8 364.2L409.9 365.7L403.9 366.9ZM401.9 429.5L399.1 429.7L399.1 423.4L404.6 424.1L406.5 425.2L407.3 426.2L407.2 427.2L406.1 428.2L401.9 429.5ZM544.5 437.7L515.5 437.7L515.6 434.2L516.1 432.5L517.0 431.5L520.0 430.5L544.5 430.4L544.5 437.7Z"/>
<path fill="#c8ff00" fill-rule="evenodd" d="M403.9 301.9L399.1 302.0L399.1 236.0L413.8 236.0L413.9 238.8L414.5 240.5L419.9 245.5L420.2 246.8L419.3 248.2L408.2 253.2L406.8 254.5L406.4 256.2L406.5 266.5L407.3 269.2L408.9 270.6L411.3 271.6L418.6 272.0L430.3 271.9L432.5 271.5L433.9 270.8L434.8 269.8L435.2 268.5L435.9 260.8L436.8 259.5L438.6 258.4L440.9 257.8L451.6 256.6L461.6 255.8L463.5 254.8L465.3 252.0L467.0 250.8L473.0 249.3L483.7 248.5L485.6 247.5L488.0 244.5L489.6 243.8L493.6 243.4L518.3 243.2L520.7 242.5L522.2 241.2L522.7 239.5L522.8 236.0L544.5 236.0L544.5 250.3L535.0 250.4L532.8 250.8L531.3 251.5L530.4 252.5L530.0 253.8L529.8 260.5L529.2 262.5L528.0 263.8L523.9 266.2L521.7 270.5L519.0 271.7L511.3 272.4L509.7 273.2L508.8 274.2L508.2 276.8L508.4 283.2L509.6 285.2L513.6 287.2L514.9 288.5L515.1 290.8L513.7 292.6L510.7 293.1L503.5 291.8L501.7 290.8L499.3 287.5L496.6 286.6L471.6 286.3L468.0 286.0L465.6 284.9L463.1 281.8L460.3 280.9L445.0 280.5L432.3 278.1L418.3 278.1L414.3 279.1L413.0 280.2L412.4 281.5L412.3 284.8L413.8 291.2L413.7 296.2L413.1 298.2L411.7 299.5L409.6 300.6L403.9 301.9ZM544.5 322.3L540.7 322.0L538.7 321.2L537.7 320.2L536.0 316.8L530.9 313.8L528.7 309.4L524.7 307.2L523.6 306.2L522.9 303.8L522.9 298.2L523.3 296.2L524.3 294.8L526.0 294.1L528.3 293.8L534.2 294.2L536.3 295.5L537.7 298.5L538.7 299.5L540.7 300.3L544.5 300.7L544.5 322.3ZM544.5 358.3L541.3 357.9L539.0 356.9L538.0 355.9L536.3 353.0L534.7 351.8L524.7 349.2L523.5 348.2L521.9 345.5L520.5 344.5L517.0 343.5L513.0 342.8L484.0 342.7L475.0 343.9L470.3 344.0L424.6 343.0L399.1 345.4L399.1 315.4L402.9 315.6L409.9 316.8L411.8 317.5L412.9 318.5L412.6 320.2L409.6 322.8L408.7 324.2L407.1 331.5L407.2 332.5L407.8 333.2L409.3 333.9L412.2 334.5L421.9 335.3L439.3 335.0L441.5 334.2L444.1 331.5L446.0 330.4L448.3 329.8L453.3 329.4L455.6 328.5L456.6 327.2L456.9 325.8L456.5 324.5L455.6 323.5L453.3 322.6L446.7 321.8L444.0 320.2L443.5 319.2L443.9 318.2L446.7 316.8L453.6 315.6L457.3 315.4L500.3 315.4L505.2 315.8L507.3 317.2L508.7 320.2L509.6 321.2L514.4 323.8L516.7 328.3L521.8 331.2L523.4 334.5L524.3 335.5L526.7 336.4L534.7 337.3L536.3 338.5L537.7 341.7L538.7 342.9L540.7 343.7L544.5 344.0L544.5 358.3ZM467.0 372.9L455.3 372.9L446.3 371.3L443.9 370.2L442.0 367.5L440.6 366.5L438.3 365.9L432.9 365.4L430.6 364.6L429.0 363.2L428.7 361.5L429.9 359.9L431.9 358.9L438.6 358.1L440.6 357.6L443.9 354.5L446.3 353.6L468.3 352.6L474.0 352.0L476.6 352.5L478.3 353.9L480.4 357.2L485.4 360.5L486.1 361.9L485.8 363.5L484.9 364.5L483.3 365.3L477.0 365.9L474.6 366.6L472.6 368.2L470.6 371.6L469.0 372.5L467.0 372.9ZM401.6 364.2L399.1 364.3L399.1 352.7L404.1 353.5L405.6 354.5L406.2 355.9L406.4 360.2L405.9 362.2L404.5 363.5L401.6 364.2ZM402.6 395.5L399.1 395.7L399.1 387.4L402.9 387.6L405.3 388.1L407.1 389.2L408.0 390.5L408.1 392.2L407.1 393.9L405.3 395.0L402.6 395.5ZM459.6 394.2L450.3 394.3L446.3 394.0L443.9 392.9L443.3 391.9L443.3 390.9L444.6 388.9L447.6 387.6L456.0 387.4L461.0 387.7L462.6 388.3L463.6 389.2L464.0 390.2L464.0 391.5L462.6 393.4L459.6 394.2ZM510.7 415.9L478.0 415.9L476.3 415.5L474.9 414.5L473.2 410.5L472.3 409.4L469.0 408.0L442.3 407.1L433.6 407.1L424.6 407.9L417.9 407.9L409.2 406.2L407.5 405.2L407.1 404.2L408.1 402.5L412.7 399.5L414.3 396.5L415.3 395.5L417.3 394.7L420.6 394.4L429.6 394.4L432.9 395.0L434.6 396.2L436.6 400.2L438.3 401.2L440.6 401.6L510.9 401.9L513.4 402.5L514.9 403.9L515.4 405.9L515.5 410.5L515.3 412.9L514.4 414.5L513.0 415.4L510.7 415.9ZM400.3 427.9L399.1 427.9L399.1 425.4L401.9 425.8L402.8 426.5L402.3 427.4L400.3 427.9Z"/>
<path fill="#fffa00" fill-rule="evenodd" d="M401.3 252.5L399.1 252.6L399.1 236.0L408.3 236.0L408.4 238.8L409.0 240.5L414.1 244.5L415.0 245.8L415.0 247.2L414.0 248.5L411.5 249.8L404.6 252.0L401.3 252.5ZM469.3 278.6L467.3 278.8L460.3 278.1L448.3 277.9L444.7 277.2L443.5 276.2L442.9 274.8L442.9 269.5L443.3 267.2L444.6 265.6L448.7 263.5L450.7 260.8L452.1 259.8L454.8 259.2L463.3 258.7L468.3 257.6L470.5 256.5L472.8 253.2L474.6 252.2L489.3 250.9L491.0 251.1L492.3 251.8L493.2 253.8L493.0 255.2L492.4 256.2L487.6 259.1L485.0 263.5L480.3 266.1L478.1 270.5L473.0 273.4L471.0 277.5L469.3 278.6ZM402.6 287.5L399.1 287.7L399.1 270.7L402.6 271.0L405.3 272.1L407.4 273.8L408.3 275.8L408.1 282.5L407.6 284.8L405.9 286.6L402.6 287.5ZM401.6 299.2L399.1 299.3L399.1 293.7L403.6 294.2L404.9 294.8L405.7 295.8L405.7 297.2L405.0 298.2L401.6 299.2ZM400.3 329.5L399.1 329.6L399.1 322.4L402.9 323.2L403.6 323.8L404.2 325.2L404.1 326.8L403.4 328.2L401.9 329.1L400.3 329.5ZM404.6 344.2L399.1 344.4L399.1 334.4L403.3 334.7L420.9 338.0L438.6 338.0L449.6 336.7L466.3 336.8L469.7 337.5L470.9 338.5L471.3 339.5L471.0 340.5L470.3 341.2L467.0 342.0L422.9 341.5L418.9 341.8L412.3 343.3L404.6 344.2ZM466.0 365.6L457.0 365.7L453.3 365.3L451.0 363.9L450.4 362.5L450.5 361.2L452.0 359.3L455.3 358.5L466.3 358.4L468.6 358.8L470.3 359.5L471.4 361.2L471.0 363.2L469.0 364.8L466.0 365.6ZM400.3 392.9L399.1 392.9L399.1 389.4L401.9 389.7L403.3 390.5L403.5 391.2L402.9 392.1L400.3 392.9ZM424.3 406.2L417.3 406.1L415.3 405.3L414.9 404.2L416.1 402.9L418.3 402.0L421.3 401.8L424.6 402.1L426.6 402.9L427.4 404.5L426.6 405.5L424.3 406.2Z"/>
<path fill="#ffa500" fill-rule="evenodd" d="M401.9 250.9L399.1 251.0L399.1 236.0L404.4 236.0L404.6 239.2L405.3 240.8L410.4 244.8L411.3 246.2L411.1 247.5L409.3 248.8L405.6 250.2L401.9 250.9ZM400.6 284.9L399.1 284.9L399.1 273.4L402.9 274.2L403.9 275.2L404.3 276.5L404.4 281.2L404.0 283.2L402.9 284.2L400.6 284.9ZM402.3 343.5L399.1 343.6L399.1 336.1L404.3 336.3L410.9 337.5L413.6 338.5L414.8 339.9L414.1 341.2L412.0 342.2L402.3 343.5Z"/>
<path fill="#ff3c0a" fill-rule="evenodd" d="M402.3 249.5L399.1 249.7L399.1 242.0L401.9 242.4L403.9 243.1L406.2 244.5L407.3 245.8L407.3 247.2L406.4 248.2L404.6 249.0L402.3 249.5ZM402.9 342.5L399.1 342.7L399.1 337.3L406.3 338.0L409.1 338.9L410.5 339.9L410.1 340.9L408.6 341.5L402.9 342.5Z"/></g>
<rect x="305.2" y="257.10" width="12.8" height="17.95" fill="#ff3c0a"/>
<rect x="305.2" y="274.75" width="12.8" height="17.95" fill="#ffa500"/>
<rect x="305.2" y="292.40" width="12.8" height="17.95" fill="#fffa00"/>
<rect x="305.2" y="310.05" width="12.8" height="17.95" fill="#c8ff00"/>
<rect x="305.2" y="327.70" width="12.8" height="17.95" fill="#5fff00"/>
<rect x="305.2" y="345.35" width="12.8" height="17.95" fill="#00ff6e"/>
<rect x="305.2" y="363.00" width="12.8" height="17.95" fill="#00ffbc"/>
<rect x="305.2" y="380.65" width="12.8" height="17.95" fill="#00fcfc"/>
<rect x="305.2" y="398.30" width="12.8" height="17.95" fill="#009bfa"/>
<rect x="305.2" y="415.95" width="12.8" height="17.95" fill="#0037f0"/>
<line x1="318.0" y1="257.10" x2="319.6" y2="257.10" stroke="#c8c8c8" stroke-width="0.7"/>
<line x1="318.0" y1="274.75" x2="319.6" y2="274.75" stroke="#c8c8c8" stroke-width="0.7"/>
<line x1="318.0" y1="292.40" x2="319.6" y2="292.40" stroke="#c8c8c8" stroke-width="0.7"/>
<line x1="318.0" y1="310.05" x2="319.6" y2="310.05" stroke="#c8c8c8" stroke-width="0.7"/>
<line x1="318.0" y1="327.70" x2="319.6" y2="327.70" stroke="#c8c8c8" stroke-width="0.7"/>
<line x1="318.0" y1="345.35" x2="319.6" y2="345.35" stroke="#c8c8c8" stroke-width="0.7"/>
<line x1="318.0" y1="363.00" x2="319.6" y2="363.00" stroke="#c8c8c8" stroke-width="0.7"/>
<line x1="318.0" y1="380.65" x2="319.6" y2="380.65" stroke="#c8c8c8" stroke-width="0.7"/>
<line x1="318.0" y1="398.30" x2="319.6" y2="398.30" stroke="#c8c8c8" stroke-width="0.7"/>
<line x1="318.0" y1="415.95" x2="319.6" y2="415.95" stroke="#c8c8c8" stroke-width="0.7"/>
<line x1="318.0" y1="433.60" x2="319.6" y2="433.60" stroke="#c8c8c8" stroke-width="0.7"/>
<text transform="matrix(1.129 0 0 1.050 305.1 240.4)" class="t1">Nh3.Mass Fraction</text>
<text transform="matrix(1.050 0 0 1.050 305.4 248.1)" class="t2">catalyst upstream</text>
<g transform="matrix(0.987 0 0 1.050 324.2 261.62)" class="lb"><text transform="scale(1.050 1)">1.133</text><text x="30.0" y="0.8" class="tm">×</text><text x="39.6">10</text><text x="51.1" y="-3.0" class="sp">-4</text></g>
<g transform="matrix(0.987 0 0 1.050 324.2 279.26)" class="lb"><text transform="scale(1.050 1)">1.090</text><text x="30.0" y="0.8" class="tm">×</text><text x="39.6">10</text><text x="51.1" y="-3.0" class="sp">-4</text></g>
<g transform="matrix(0.987 0 0 1.050 324.2 296.92)" class="lb"><text transform="scale(1.050 1)">1.048</text><text x="30.0" y="0.8" class="tm">×</text><text x="39.6">10</text><text x="51.1" y="-3.0" class="sp">-4</text></g>
<g transform="matrix(0.987 0 0 1.050 324.2 314.56)" class="lb"><text transform="scale(1.050 1)">1.005</text><text x="30.0" y="0.8" class="tm">×</text><text x="39.6">10</text><text x="51.1" y="-3.0" class="sp">-4</text></g>
<g transform="matrix(0.987 0 0 1.050 324.2 332.22)" class="lb"><text transform="scale(1.050 1)">9.628</text><text x="30.0" y="0.8" class="tm">×</text><text x="39.6">10</text><text x="51.1" y="-3.0" class="sp">-5</text></g>
<g transform="matrix(0.987 0 0 1.050 324.2 349.87)" class="lb"><text transform="scale(1.050 1)">9.203</text><text x="30.0" y="0.8" class="tm">×</text><text x="39.6">10</text><text x="51.1" y="-3.0" class="sp">-5</text></g>
<g transform="matrix(0.987 0 0 1.050 324.2 367.51)" class="lb"><text transform="scale(1.050 1)">8.778</text><text x="30.0" y="0.8" class="tm">×</text><text x="39.6">10</text><text x="51.1" y="-3.0" class="sp">-5</text></g>
<g transform="matrix(0.987 0 0 1.050 324.2 385.16)" class="lb"><text transform="scale(1.050 1)">8.353</text><text x="30.0" y="0.8" class="tm">×</text><text x="39.6">10</text><text x="51.1" y="-3.0" class="sp">-5</text></g>
<g transform="matrix(0.987 0 0 1.050 324.2 402.81)" class="lb"><text transform="scale(1.050 1)">7.928</text><text x="30.0" y="0.8" class="tm">×</text><text x="39.6">10</text><text x="51.1" y="-3.0" class="sp">-5</text></g>
<g transform="matrix(0.987 0 0 1.050 324.2 420.47)" class="lb"><text transform="scale(1.050 1)">7.503</text><text x="30.0" y="0.8" class="tm">×</text><text x="39.6">10</text><text x="51.1" y="-3.0" class="sp">-5</text></g>
<g transform="matrix(0.987 0 0 1.050 324.2 438.12)" class="lb"><text transform="scale(1.050 1)">7.078</text><text x="30.0" y="0.8" class="tm">×</text><text x="39.6">10</text><text x="51.1" y="-3.0" class="sp">-5</text></g>
<text x="140.5" y="227.2" class="cap" text-anchor="middle">(<tspan font-weight="bold">a</tspan>)</text>
<text x="425.8" y="227.5" class="cap" text-anchor="middle">(<tspan font-weight="bold">b</tspan>)</text>
<text x="140.5" y="454.5" class="cap" text-anchor="middle">(<tspan font-weight="bold">c</tspan>)</text>
<text x="425.8" y="454.5" class="cap" text-anchor="middle">(<tspan font-weight="bold">d</tspan>)</text>
<g>
<line x1="240" y1="168" x2="260" y2="168" stroke="#dd1c1c" stroke-width="1.3"/>
<path d="M259 165.6L266 168L259 170.4Z" fill="#e02020"/>
<line x1="240" y1="168" x2="240" y2="189" stroke="#1c1cb0" stroke-width="1.3"/>
<path d="M237.6 187.5L240 194L242.4 187.5Z" fill="#1c1cb0"/>
<circle cx="240" cy="168" r="2.6" fill="#0b6e0b"/>
<circle cx="253" cy="181.3" r="2.4" fill="#10d8e8"/>
<text x="271.3" y="168" class="ax" fill="#f5a0a0">X</text>
<text x="240.8" y="166" class="ax" fill="#b8e4b8" font-size="5.5">Y</text>
<text x="240.5" y="199" class="ax" fill="#a8a8f0">Z</text>
</g>
</svg>
</body></html>
